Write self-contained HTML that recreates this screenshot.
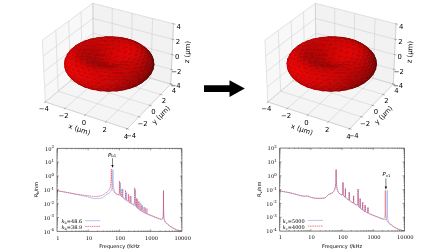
<!DOCTYPE html>
<html><head><meta charset="utf-8"><style>
html,body{margin:0;padding:0;background:#fff;overflow:hidden}
svg{display:block}
</style></head><body>
<svg width="448" height="252" viewBox="0 0 448 252">
<defs><style>*{stroke-linejoin:round;stroke-linecap:butt}</style><filter id="sm" x="-5%" y="-5%" width="110%" height="110%"><feGaussianBlur stdDeviation="0.9"/></filter></defs>
<g transform="matrix(0.54817 0 0 0.54817 -22.210 -30.670)"><g id="figure_1_a"> <g id="pane3d_1_a"> <g id="patch_3_a"> <path d="M 123.2 241.97 L 211.08 168.31 L 209.85 62.07 L 117.77 129.27 " style="fill: #f2f2f2; opacity: 0.5; stroke: #f2f2f2; stroke-linejoin: miter"/> </g> </g> <g id="pane3d_2_a"> <g id="patch_4_a"> <path d="M 211.08 168.31 L 352.09 209.29 L 357.12 99.4 L 209.85 62.07 " style="fill: #e6e6e6; opacity: 0.5; stroke: #e6e6e6; stroke-linejoin: miter"/> </g> </g> <g id="pane3d_3_a"> <g id="patch_5_a"> <path d="M 123.2 241.97 L 272.68 290.79 L 352.09 209.29 L 211.08 168.31 " style="fill: #ececec; opacity: 0.5; stroke: #ececec; stroke-linejoin: miter"/> </g> </g> <g id="grid3d_1_a"> <g id="Line3DCollection_1_a"> <path d="M 123.2 241.97 L 211.08 168.31 L 209.85 62.07 " style="fill: none; stroke: #c4c4c4; stroke-width: 0.8"/> <path d="M 159.11 253.7 L 245.07 178.19 L 245.3 71.06 " style="fill: none; stroke: #c4c4c4; stroke-width: 0.8"/> <path d="M 195.97 265.74 L 279.88 188.31 L 281.63 80.27 " style="fill: none; stroke: #c4c4c4; stroke-width: 0.8"/> <path d="M 233.81 278.1 L 315.54 198.67 L 318.9 89.71 " style="fill: none; stroke: #c4c4c4; stroke-width: 0.8"/> <path d="M 272.68 290.79 L 352.09 209.29 L 357.12 99.4 " style="fill: none; stroke: #c4c4c4; stroke-width: 0.8"/> </g> </g> <g id="grid3d_2_a"> <g id="Line3DCollection_2_a"> <path d="M 117.77 129.27 L 123.2 241.97 L 272.68 290.79 " style="fill: none; stroke: #c4c4c4; stroke-width: 0.8"/> <path d="M 142.36 111.33 L 146.6 222.35 L 293.9 269.02 " style="fill: none; stroke: #c4c4c4; stroke-width: 0.8"/> <path d="M 165.86 94.18 L 169.01 203.57 L 314.16 248.22 " style="fill: none; stroke: #c4c4c4; stroke-width: 0.8"/> <path d="M 188.34 77.78 L 190.48 185.57 L 333.54 228.33 " style="fill: none; stroke: #c4c4c4; stroke-width: 0.8"/> <path d="M 209.85 62.07 L 211.08 168.31 L 352.09 209.29 " style="fill: none; stroke: #c4c4c4; stroke-width: 0.8"/> </g> </g> <g id="grid3d_3_a"> <g id="Line3DCollection_3_a"> <path d="M 352.09 209.29 L 211.08 168.31 L 123.2 241.97 " style="fill: none; stroke: #c4c4c4; stroke-width: 0.8"/> <path d="M 353.31 182.71 L 210.78 142.57 L 121.89 214.75 " style="fill: none; stroke: #c4c4c4; stroke-width: 0.8"/> <path d="M 354.55 155.55 L 210.48 116.3 L 120.55 186.9 " style="fill: none; stroke: #c4c4c4; stroke-width: 0.8"/> <path d="M 355.82 127.79 L 210.17 89.47 L 119.17 158.42 " style="fill: none; stroke: #c4c4c4; stroke-width: 0.8"/> <path d="M 357.12 99.4 L 209.85 62.07 L 117.77 129.27 " style="fill: none; stroke: #c4c4c4; stroke-width: 0.8"/> </g> </g> <g id="axis3d_1_a"> <g id="line2d_1_a"> <path d="M 123.2 241.97 L 272.68 290.79 " style="fill:none;stroke:#c4c4c4;stroke-width:0.8"/> </g> <g id="xtick_1_a"> <g id="line2d_2_a"> <path d="M 123.96 241.33 L 121.66 243.25 " style="fill: none; stroke: #666666; stroke-width: 0.8; stroke-linecap: square"/> </g> <g id="text_1_a"> <text style="font-size: 12.5px;  font-family: 'DejaVu Sans', sans-serif; text-anchor: middle" x="120.64" y="259.08" transform="rotate(-0 120.64 259.08)">−4</text> </g> </g> <g id="xtick_2_a"> <g id="line2d_3_a"> <path d="M 159.86 253.04 L 157.61 255.02 " style="fill: none; stroke: #666666; stroke-width: 0.8; stroke-linecap: square"/> </g> <g id="text_2_a"> <text style="font-size: 12.5px;  font-family: 'DejaVu Sans', sans-serif; text-anchor: middle" x="156.59" y="271.06" transform="rotate(-0 156.59 271.06)">−2</text> </g> </g> <g id="xtick_3_a"> <g id="line2d_4_a"> <path d="M 196.7 265.06 L 194.5 267.09 " style="fill: none; stroke: #666666; stroke-width: 0.8; stroke-linecap: square"/> </g> <g id="text_3_a"> <text style="font-size: 12.5px;  font-family: 'DejaVu Sans', sans-serif; text-anchor: middle" x="193.49" y="283.36" transform="rotate(-0 193.49 283.36)">0</text> </g> </g> <g id="xtick_4_a"> <g id="line2d_5_a"> <path d="M 234.53 277.4 L 232.38 279.49 " style="fill: none; stroke: #666666; stroke-width: 0.8; stroke-linecap: square"/> </g> <g id="text_4_a"> <text style="font-size: 12.5px;  font-family: 'DejaVu Sans', sans-serif; text-anchor: middle" x="231.38" y="295.98" transform="rotate(-0 231.38 295.98)">2</text> </g> </g> <g id="xtick_5_a"> <g id="line2d_6_a"> <path d="M 273.37 290.08 L 271.29 292.22 " style="fill: none; stroke: #666666; stroke-width: 0.8; stroke-linecap: square"/> </g> <g id="text_5_a"> <text style="font-size: 12.5px;  font-family: 'DejaVu Sans', sans-serif; text-anchor: middle" x="270.3" y="308.95" transform="rotate(-0 270.3 308.95)">4</text> </g> </g> <g id="text_6_a"> <text style="font-size: 12.5px;  font-family: 'DejaVu Sans', sans-serif; text-anchor: middle" x="184.14" y="295.98" transform="rotate(-341.91 184.14 295.98)">x (μm)</text> </g> </g> <g id="axis3d_2_a"> <g id="line2d_7_a"> <path d="M 352.09 209.29 L 272.68 290.79 " style="fill:none;stroke:#c4c4c4;stroke-width:0.8"/> </g> <g id="xtick_6_a"> <g id="line2d_8_a"> <path d="M 271.42 290.38 L 275.2 291.61 " style="fill: none; stroke: #666666; stroke-width: 0.8; stroke-linecap: square"/> </g> <g id="text_7_a"> <text style="font-size: 12.5px;  font-family: 'DejaVu Sans', sans-serif; text-anchor: middle" x="279.54" y="307.52" transform="rotate(-0 279.54 307.52)">−4</text> </g> </g> <g id="xtick_7_a"> <g id="line2d_9_a"> <path d="M 292.66 268.62 L 296.38 269.8 " style="fill: none; stroke: #666666; stroke-width: 0.8; stroke-linecap: square"/> </g> <g id="text_8_a"> <text style="font-size: 12.5px;  font-family: 'DejaVu Sans', sans-serif; text-anchor: middle" x="300.47" y="285.42" transform="rotate(-0 300.47 285.42)">−2</text> </g> </g> <g id="xtick_8_a"> <g id="line2d_10_a"> <path d="M 312.94 247.84 L 316.61 248.97 " style="fill: none; stroke: #666666; stroke-width: 0.8; stroke-linecap: square"/> </g> <g id="text_9_a"> <text style="font-size: 12.5px;  font-family: 'DejaVu Sans', sans-serif; text-anchor: middle" x="320.47" y="264.32" transform="rotate(-0 320.47 264.32)">0</text> </g> </g> <g id="xtick_9_a"> <g id="line2d_11_a"> <path d="M 332.34 227.97 L 335.95 229.05 " style="fill: none; stroke: #666666; stroke-width: 0.8; stroke-linecap: square"/> </g> <g id="text_10_a"> <text style="font-size: 12.5px;  font-family: 'DejaVu Sans', sans-serif; text-anchor: middle" x="339.59" y="244.13" transform="rotate(-0 339.59 244.13)">2</text> </g> </g> <g id="xtick_10_a"> <g id="line2d_12_a"> <path d="M 350.91 208.95 L 354.46 209.98 " style="fill: none; stroke: #666666; stroke-width: 0.8; stroke-linecap: square"/> </g> <g id="text_11_a"> <text style="font-size: 12.5px;  font-family: 'DejaVu Sans', sans-serif; text-anchor: middle" x="357.88" y="224.82" transform="rotate(-0 357.88 224.82)">4</text> </g> </g> <g id="text_12_a"> <text style="font-size: 12.5px;  font-family: 'DejaVu Sans', sans-serif; text-anchor: middle" x="337.14" y="268.67" transform="rotate(-45.74 337.14 268.67)">y (μm)</text> </g> </g> <g id="axis3d_3_a"> <g id="line2d_13_a"> <path d="M 352.09 209.29 L 357.12 99.4 " style="fill:none;stroke:#c4c4c4;stroke-width:0.8"/> </g> <g id="xtick_11_a"> <g id="line2d_14_a"> <path d="M 350.91 208.95 L 354.46 209.98 " style="fill: none; stroke: #666666; stroke-width: 0.8; stroke-linecap: square"/> </g> <g id="text_13_a"> <text style="font-size: 12.5px;  font-family: 'DejaVu Sans', sans-serif; text-anchor: middle" x="360.83" y="216" transform="rotate(-0 360.83 216)">−4</text> </g> </g> <g id="xtick_12_a"> <g id="line2d_15_a"> <path d="M 352.11 182.38 L 355.7 183.39 " style="fill: none; stroke: #666666; stroke-width: 0.8; stroke-linecap: square"/> </g> <g id="text_14_a"> <text style="font-size: 12.5px;  font-family: 'DejaVu Sans', sans-serif; text-anchor: middle" x="362.24" y="191.32" transform="rotate(-0 362.24 191.32)">−2</text> </g> </g> <g id="xtick_13_a"> <g id="line2d_16_a"> <path d="M 353.34 155.22 L 356.98 156.21 " style="fill: none; stroke: #666666; stroke-width: 0.8; stroke-linecap: square"/> </g> <g id="text_15_a"> <text style="font-size: 12.5px;  font-family: 'DejaVu Sans', sans-serif; text-anchor: middle" x="363.68" y="164.21" transform="rotate(-0 363.68 164.21)">0</text> </g> </g> <g id="xtick_14_a"> <g id="line2d_17_a"> <path d="M 354.6 127.47 L 358.27 128.43 " style="fill: none; stroke: #666666; stroke-width: 0.8; stroke-linecap: square"/> </g> <g id="text_16_a"> <text style="font-size: 12.5px;  font-family: 'DejaVu Sans', sans-serif; text-anchor: middle" x="365.16" y="136.51" transform="rotate(-0 365.16 136.51)">2</text> </g> </g> <g id="xtick_15_a"> <g id="line2d_18_a"> <path d="M 355.88 99.09 L 359.6 100.03 " style="fill: none; stroke: #666666; stroke-width: 0.8; stroke-linecap: square"/> </g> <g id="text_17_a"> <text style="font-size: 12.5px;  font-family: 'DejaVu Sans', sans-serif; text-anchor: middle" x="366.66" y="108.18" transform="rotate(-0 366.66 108.18)">4</text> </g> </g> <g id="text_18_a"> <text style="font-size: 12.5px;  font-family: 'DejaVu Sans', sans-serif; text-anchor: middle" x="386.37" y="151.22" transform="rotate(-87.38 386.37 151.22)">z (μm)</text> </g> </g> <g id="axes_1_a"/> </g> <g stroke-width="1.1" stroke-linejoin="round" filter="url(#sm)"><path fill="#c90000" stroke="#9a0000" d="M233.1 123.2L246.8 123.4L240.8 123.1Z"/><path fill="#bd0000" stroke="#910000" d="M255.3 123.9L260.9 124.9L269.2 126.2Z"/><path fill="#c40000" stroke="#960000" d="M246.8 123.4L260.9 124.9L255.3 123.9Z"/><path fill="#d30000" stroke="#a20000" d="M233.1 123.2L238.9 125.5L246.8 123.4Z"/><path fill="#d60000" stroke="#a40000" d="M219.6 124.4L225.9 125.9L233.1 123.2Z"/><path fill="#b40000" stroke="#8a0000" d="M269.2 126.2L273.9 127.6L281.5 129.6Z"/><path fill="#bd0000" stroke="#900000" d="M260.9 124.9L273.9 127.6L269.2 126.2Z"/><path fill="#db0000" stroke="#a70000" d="M205.9 127.1L212.0 127.3L219.6 124.4Z"/><path fill="#d10000" stroke="#a00000" d="M246.8 123.4L252.3 126.5L260.9 124.9Z"/><path fill="#d30000" stroke="#a20000" d="M233.1 123.2L225.9 125.9L238.9 125.5Z"/><path fill="#d20000" stroke="#a00000" d="M238.9 125.5L252.3 126.5L246.8 123.4Z"/><path fill="#d60000" stroke="#a30000" d="M219.6 124.4L212.0 127.3L225.9 125.9Z"/><path fill="#e10000" stroke="#ac0000" d="M193.2 131.4L198.4 130.3L205.9 127.1Z"/><path fill="#cc0000" stroke="#9c0000" d="M260.9 124.9L265.4 128.3L273.9 127.6Z"/><path fill="#d00000" stroke="#9f0000" d="M252.3 126.5L265.4 128.3L260.9 124.9Z"/><path fill="#b40000" stroke="#8a0000" d="M281.5 129.6L273.9 127.6L285.7 131.5Z"/><path fill="#db0000" stroke="#a70000" d="M205.9 127.1L198.4 130.3L212.0 127.3Z"/><path fill="#aa0000" stroke="#820000" d="M281.5 129.6L285.7 131.5L292.8 134.5Z"/><path fill="#d90000" stroke="#a60000" d="M225.9 125.9L232.3 130.7L238.9 125.5Z"/><path fill="#db0000" stroke="#a70000" d="M238.9 125.5L244.4 130.3L252.3 126.5Z"/><path fill="#d80000" stroke="#a50000" d="M212.0 127.3L218.9 131.4L225.9 125.9Z"/><path fill="#d90000" stroke="#a60000" d="M238.9 125.5L232.3 130.7L244.4 130.3Z"/><path fill="#dc0000" stroke="#a80000" d="M252.3 126.5L256.9 131.7L265.4 128.3Z"/><path fill="#cc0000" stroke="#9c0000" d="M273.9 127.6L265.4 128.3L277.0 131.4Z"/><path fill="#e20000" stroke="#ad0000" d="M193.2 131.4L186.6 134.7L198.4 130.3Z"/><path fill="#d50000" stroke="#a30000" d="M225.9 125.9L218.9 131.4L232.3 130.7Z"/><path fill="#db0000" stroke="#a70000" d="M244.4 130.3L256.9 131.7L252.3 126.5Z"/><path fill="#c60000" stroke="#970000" d="M273.9 127.6L277.0 131.4L285.7 131.5Z"/><path fill="#dc0000" stroke="#a80000" d="M198.4 130.3L205.2 132.7L212.0 127.3Z"/><path fill="#a90000" stroke="#820000" d="M292.8 134.5L285.7 131.5L296.9 137.0Z"/><path fill="#d40000" stroke="#a20000" d="M212.0 127.3L205.2 132.7L218.9 131.4Z"/><path fill="#da0000" stroke="#a70000" d="M232.3 130.7L238.2 137.4L244.4 130.3Z"/><path fill="#dc0000" stroke="#a90000" d="M265.4 128.3L256.9 131.7L267.6 134.5Z"/><path fill="#e00000" stroke="#ab0000" d="M244.4 130.3L249.1 136.4L256.9 131.7Z"/><path fill="#dd0000" stroke="#a90000" d="M265.4 128.3L267.6 134.5L277.0 131.4Z"/><path fill="#ea0000" stroke="#b30000" d="M182.7 136.8L177.4 140.1L186.6 134.7Z"/><path fill="#d50000" stroke="#a30000" d="M218.9 131.4L225.8 138.2L232.3 130.7Z"/><path fill="#de0000" stroke="#aa0000" d="M244.4 130.3L238.2 137.4L249.1 136.4Z"/><path fill="#e30000" stroke="#ae0000" d="M186.6 134.7L192.5 135.2L198.4 130.3Z"/><path fill="#c60000" stroke="#970000" d="M285.7 131.5L277.0 131.4L288.7 135.6Z"/><path fill="#d60000" stroke="#a40000" d="M232.3 130.7L225.8 138.2L238.2 137.4Z"/><path fill="#d80000" stroke="#a50000" d="M198.4 130.3L192.5 135.2L205.2 132.7Z"/><path fill="#ba0000" stroke="#8f0000" d="M285.7 131.5L288.7 135.6L296.9 137.0Z"/><path fill="#e10000" stroke="#ac0000" d="M256.9 131.7L249.1 136.4L258.6 139.7Z"/><path fill="#d30000" stroke="#a10000" d="M205.2 132.7L212.6 138.6L218.9 131.4Z"/><path fill="#e50000" stroke="#af0000" d="M256.9 131.7L258.6 139.7L267.6 134.5Z"/><path fill="#ce0000" stroke="#9e0000" d="M218.9 131.4L212.6 138.6L225.8 138.2Z"/><path fill="#de0000" stroke="#aa0000" d="M249.1 136.4L238.2 137.4L247.0 144.4Z"/><path fill="#9d0000" stroke="#780000" d="M302.9 140.7L296.9 137.0L306.3 143.7Z"/><path fill="#de0000" stroke="#aa0000" d="M277.0 131.4L267.6 134.5L279.0 137.9Z"/><path fill="#eb0000" stroke="#b40000" d="M177.4 140.1L182.0 139.2L186.6 134.7Z"/><path fill="#d60000" stroke="#a40000" d="M238.2 137.4L225.8 138.2L234.9 146.3Z"/><path fill="#e50000" stroke="#af0000" d="M247.0 144.4L258.6 139.7L249.1 136.4Z"/><path fill="#d90000" stroke="#a60000" d="M277.0 131.4L279.0 137.9L288.7 135.6Z"/><path fill="#e20000" stroke="#ad0000" d="M186.6 134.7L182.0 139.2L192.5 135.2Z"/><path fill="#dd0000" stroke="#a90000" d="M238.2 137.4L234.9 146.3L247.0 144.4Z"/><path fill="#d60000" stroke="#a40000" d="M192.5 135.2L199.7 139.2L205.2 132.7Z"/><path fill="#cb0000" stroke="#9b0000" d="M205.2 132.7L199.7 139.2L212.6 138.6Z"/><path fill="#e70000" stroke="#b10000" d="M267.6 134.5L258.6 139.7L269.1 142.9Z"/><path fill="#ce0000" stroke="#9d0000" d="M225.8 138.2L212.6 138.6L221.5 147.0Z"/><path fill="#ba0000" stroke="#8f0000" d="M296.9 137.0L288.7 135.6L299.3 141.2Z"/><path fill="#d00000" stroke="#9f0000" d="M225.8 138.2L221.5 147.0L234.9 146.3Z"/><path fill="#e80000" stroke="#b10000" d="M267.6 134.5L269.1 142.9L279.0 137.9Z"/><path fill="#e50000" stroke="#af0000" d="M257.0 148.7L258.6 139.7L247.0 144.4Z"/><path fill="#ac0000" stroke="#830000" d="M296.9 137.0L299.3 141.2L306.3 143.7Z"/><path fill="#ec0000" stroke="#b50000" d="M177.4 140.1L174.0 144.1L182.0 139.2Z"/><path fill="#f20000" stroke="#b90000" d="M177.4 140.1L169.4 146.9L174.0 144.1Z"/><path fill="#eb0000" stroke="#b40000" d="M257.0 148.7L269.1 142.9L258.6 139.7Z"/><path fill="#dd0000" stroke="#a90000" d="M247.0 144.4L234.9 146.3L244.3 154.3Z"/><path fill="#e10000" stroke="#ac0000" d="M182.0 139.2L188.4 140.9L192.5 135.2Z"/><path fill="#d10000" stroke="#9f0000" d="M192.5 135.2L188.4 140.9L199.7 139.2Z"/><path fill="#da0000" stroke="#a70000" d="M288.7 135.6L279.0 137.9L290.1 141.9Z"/><path fill="#ca0000" stroke="#9a0000" d="M212.6 138.6L199.7 139.2L207.7 146.5Z"/><path fill="#c50000" stroke="#960000" d="M212.6 138.6L207.7 146.5L221.5 147.0Z"/><path fill="#910000" stroke="#6f0000" d="M310.9 147.8L306.3 143.7L313.2 151.1Z"/><path fill="#e60000" stroke="#b00000" d="M244.3 154.3L257.0 148.7L247.0 144.4Z"/><path fill="#d00000" stroke="#9f0000" d="M234.9 146.3L221.5 147.0L231.4 156.4Z"/><path fill="#ce0000" stroke="#9d0000" d="M288.7 135.6L290.1 141.9L299.3 141.2Z"/><path fill="#870000" stroke="#670000" d="M313.2 151.1L316.7 155.7L310.9 147.8Z"/><path fill="#d90000" stroke="#a60000" d="M234.9 146.3L231.4 156.4L244.3 154.3Z"/><path fill="#ea0000" stroke="#b30000" d="M279.0 137.9L269.1 142.9L279.8 145.9Z"/><path fill="#ec0000" stroke="#b40000" d="M174.0 144.1L179.2 144.1L182.0 139.2Z"/><path fill="#ed0000" stroke="#b50000" d="M267.9 152.1L269.1 142.9L257.0 148.7Z"/><path fill="#f40000" stroke="#bb0000" d="M169.4 146.9L167.4 150.8L174.0 144.1Z"/><path fill="#de0000" stroke="#aa0000" d="M182.0 139.2L179.2 144.1L188.4 140.9Z"/><path fill="#e60000" stroke="#b00000" d="M279.0 137.9L279.8 145.9L290.1 141.9Z"/><path fill="#ac0000" stroke="#830000" d="M306.3 143.7L299.3 141.2L307.6 148.0Z"/><path fill="#e70000" stroke="#b10000" d="M254.7 159.0L257.0 148.7L244.3 154.3Z"/><path fill="#cf0000" stroke="#9e0000" d="M199.7 139.2L188.4 140.9L194.9 146.2Z"/><path fill="#f70000" stroke="#bd0000" d="M169.4 146.9L163.5 154.7L167.4 150.8Z"/><path fill="#c10000" stroke="#940000" d="M199.7 139.2L194.9 146.2L207.7 146.5Z"/><path fill="#c50000" stroke="#960000" d="M221.5 147.0L207.7 146.5L217.4 156.2Z"/><path fill="#c70000" stroke="#980000" d="M221.5 147.0L217.4 156.2L231.4 156.4Z"/><path fill="#9e0000" stroke="#780000" d="M306.3 143.7L307.6 148.0L313.2 151.1Z"/><path fill="#ee0000" stroke="#b60000" d="M267.9 152.1L279.8 145.9L269.1 142.9Z"/><path fill="#ed0000" stroke="#b60000" d="M254.7 159.0L267.9 152.1L257.0 148.7Z"/><path fill="#d90000" stroke="#a60000" d="M244.3 154.3L231.4 156.4L241.3 163.8Z"/><path fill="#ce0000" stroke="#9e0000" d="M299.3 141.2L290.1 141.9L299.6 146.9Z"/><path fill="#eb0000" stroke="#b40000" d="M174.0 144.1L172.3 148.2L179.2 144.1Z"/><path fill="#f30000" stroke="#ba0000" d="M174.0 144.1L167.4 150.8L172.3 148.2Z"/><path fill="#870000" stroke="#670000" d="M317.9 159.4L316.7 155.7L313.2 151.1Z"/><path fill="#e40000" stroke="#ae0000" d="M241.3 163.8L254.7 159.0L244.3 154.3Z"/><path fill="#bc0000" stroke="#900000" d="M299.3 141.2L299.6 146.9L307.6 148.0Z"/><path fill="#dd0000" stroke="#a90000" d="M188.4 140.9L179.2 144.1L184.1 147.4Z"/><path fill="#ca0000" stroke="#9b0000" d="M188.4 140.9L184.1 147.4L194.9 146.2Z"/><path fill="#7e0000" stroke="#600000" d="M317.9 159.4L320.4 164.6L316.7 155.7Z"/><path fill="#e70000" stroke="#b10000" d="M290.1 141.9L279.8 145.9L289.8 149.1Z"/><path fill="#ba0000" stroke="#8e0000" d="M207.7 146.5L203.5 154.4L217.4 156.2Z"/><path fill="#c10000" stroke="#940000" d="M207.7 146.5L194.9 146.2L203.5 154.4Z"/><path fill="#c70000" stroke="#980000" d="M231.4 156.4L217.4 156.2L227.9 165.2Z"/><path fill="#fa0000" stroke="#bf0000" d="M167.4 150.8L163.5 154.7L163.4 157.8Z"/><path fill="#d00000" stroke="#9f0000" d="M231.4 156.4L227.9 165.2L241.3 163.8Z"/><path fill="#f00000" stroke="#b70000" d="M278.8 154.4L279.8 145.9L267.9 152.1Z"/><path fill="#9d0000" stroke="#780000" d="M313.2 151.1L307.6 148.0L313.3 155.1Z"/><path fill="#dc0000" stroke="#a80000" d="M290.1 141.9L289.8 149.1L299.6 146.9Z"/><path fill="#fb0000" stroke="#c00000" d="M163.5 154.7L159.9 162.6L163.4 157.8Z"/><path fill="#ef0000" stroke="#b70000" d="M265.7 161.6L267.9 152.1L254.7 159.0Z"/><path fill="#ea0000" stroke="#b30000" d="M179.2 144.1L172.3 148.2L175.8 150.3Z"/><path fill="#920000" stroke="#700000" d="M313.3 155.1L317.9 159.4L313.2 151.1Z"/><path fill="#f50000" stroke="#bb0000" d="M172.3 148.2L167.4 150.8L168.4 154.1Z"/><path fill="#ec0000" stroke="#b50000" d="M278.8 154.4L289.8 149.1L279.8 145.9Z"/><path fill="#dd0000" stroke="#a90000" d="M179.2 144.1L175.8 150.3L184.1 147.4Z"/><path fill="#e50000" stroke="#af0000" d="M251.7 167.9L254.7 159.0L241.3 163.8Z"/><path fill="#f00000" stroke="#b80000" d="M265.7 161.6L278.8 154.4L267.9 152.1Z"/><path fill="#f80000" stroke="#be0000" d="M167.4 150.8L163.4 157.8L168.4 154.1Z"/><path fill="#bc0000" stroke="#900000" d="M307.6 148.0L299.6 146.9L306.8 152.9Z"/><path fill="#cb0000" stroke="#9b0000" d="M194.9 146.2L184.1 147.4L191.2 153.2Z"/><path fill="#bb0000" stroke="#8f0000" d="M194.9 146.2L191.2 153.2L203.5 154.4Z"/><path fill="#ba0000" stroke="#8f0000" d="M217.4 156.2L203.5 154.4L213.8 163.6Z"/><path fill="#bc0000" stroke="#900000" d="M217.4 156.2L213.8 163.6L227.9 165.2Z"/><path fill="#fc0000" stroke="#c10000" d="M159.9 162.6L158.7 167.9L158.4 171.7Z"/><path fill="#eb0000" stroke="#b40000" d="M251.7 167.9L265.7 161.6L254.7 159.0Z"/><path fill="#ab0000" stroke="#820000" d="M307.6 148.0L306.8 152.9L313.3 155.1Z"/><path fill="#ef0000" stroke="#b70000" d="M168.4 154.1L175.8 150.3L172.3 148.2Z"/><path fill="#800000" stroke="#620000" d="M320.2 168.5L320.4 164.6L317.9 159.4Z"/><path fill="#d10000" stroke="#a00000" d="M241.3 163.8L227.9 165.2L238.2 170.8Z"/><path fill="#dc0000" stroke="#a80000" d="M299.6 146.9L289.8 149.1L298.1 153.0Z"/><path fill="#770000" stroke="#5b0000" d="M320.2 168.5L321.4 173.9L320.4 164.6Z"/><path fill="#dc0000" stroke="#a80000" d="M238.2 170.8L251.7 167.9L241.3 163.8Z"/><path fill="#fd0000" stroke="#c10000" d="M163.4 157.8L159.9 162.6L161.0 166.2Z"/><path fill="#930000" stroke="#710000" d="M316.6 163.3L317.9 159.4L313.3 155.1Z"/><path fill="#dd0000" stroke="#a90000" d="M184.1 147.4L175.8 150.3L181.3 154.1Z"/><path fill="#ca0000" stroke="#9a0000" d="M299.6 146.9L298.1 153.0L306.8 152.9Z"/><path fill="#ed0000" stroke="#b50000" d="M288.5 156.6L289.8 149.1L278.8 154.4Z"/><path fill="#c90000" stroke="#9a0000" d="M184.1 147.4L181.3 154.1L191.2 153.2Z"/><path fill="#fe0000" stroke="#c20000" d="M159.9 162.6L158.4 171.7L161.0 166.2Z"/><path fill="#f90000" stroke="#bf0000" d="M168.4 154.1L163.4 157.8L165.6 161.4Z"/><path fill="#8a0000" stroke="#690000" d="M316.6 163.3L320.2 168.5L317.9 159.4Z"/><path fill="#ef0000" stroke="#b70000" d="M172.5 156.7L175.8 150.3L168.4 154.1Z"/><path fill="#f00000" stroke="#b80000" d="M276.4 162.6L278.8 154.4L265.7 161.6Z"/><path fill="#bb0000" stroke="#8f0000" d="M203.5 154.4L191.2 153.2L200.4 160.9Z"/><path fill="#b40000" stroke="#8a0000" d="M203.5 154.4L200.4 160.9L213.8 163.6Z"/><path fill="#aa0000" stroke="#820000" d="M313.3 155.1L306.8 152.9L311.5 159.3Z"/><path fill="#bd0000" stroke="#900000" d="M227.9 165.2L213.8 163.6L224.6 170.7Z"/><path fill="#e20000" stroke="#ad0000" d="M288.5 156.6L298.1 153.0L289.8 149.1Z"/><path fill="#c60000" stroke="#970000" d="M227.9 165.2L224.6 170.7L238.2 170.8Z"/><path fill="#eb0000" stroke="#b40000" d="M262.5 169.1L265.7 161.6L251.7 167.9Z"/><path fill="#fc0000" stroke="#c10000" d="M163.4 157.8L161.0 166.2L165.6 161.4Z"/><path fill="#9d0000" stroke="#780000" d="M311.5 159.3L316.6 163.3L313.3 155.1Z"/><path fill="#e20000" stroke="#ad0000" d="M172.5 156.7L181.3 154.1L175.8 150.3Z"/><path fill="#ec0000" stroke="#b50000" d="M276.4 162.6L288.5 156.6L278.8 154.4Z"/><path fill="#f50000" stroke="#bb0000" d="M165.6 161.4L172.5 156.7L168.4 154.1Z"/><path fill="#fc0000" stroke="#c00000" d="M158.4 171.7L158.6 177.3L159.8 181.1Z"/><path fill="#7b0000" stroke="#5e0000" d="M319.9 177.4L321.4 173.9L320.2 168.5Z"/><path fill="#ca0000" stroke="#9a0000" d="M306.8 152.9L298.1 153.0L304.3 158.0Z"/><path fill="#dc0000" stroke="#a80000" d="M248.3 173.4L251.7 167.9L238.2 170.8Z"/><path fill="#ec0000" stroke="#b50000" d="M262.5 169.1L276.4 162.6L265.7 161.6Z"/><path fill="#b60000" stroke="#8b0000" d="M306.8 152.9L304.3 158.0L311.5 159.3Z"/><path fill="#ca0000" stroke="#9b0000" d="M191.2 153.2L181.3 154.1L189.1 159.6Z"/><path fill="#f80000" stroke="#be0000" d="M158.6 177.3L161.3 186.5L159.8 181.1Z"/><path fill="#750000" stroke="#5a0000" d="M319.9 177.4L319.8 182.7L321.4 173.9Z"/><path fill="#bb0000" stroke="#8f0000" d="M191.2 153.2L189.1 159.6L200.4 160.9Z"/><path fill="#8d0000" stroke="#6c0000" d="M317.7 172.0L320.2 168.5L316.6 163.3Z"/><path fill="#ff0000" stroke="#c30000" d="M161.0 166.2L158.4 171.7L161.0 175.4Z"/><path fill="#e20000" stroke="#ad0000" d="M248.3 173.4L262.5 169.1L251.7 167.9Z"/><path fill="#b50000" stroke="#8a0000" d="M213.8 163.6L200.4 160.9L211.1 168.3Z"/><path fill="#b70000" stroke="#8c0000" d="M213.8 163.6L211.1 168.3L224.6 170.7Z"/><path fill="#e20000" stroke="#ad0000" d="M296.3 159.9L298.1 153.0L288.5 156.6Z"/><path fill="#c70000" stroke="#980000" d="M238.2 170.8L224.6 170.7L235.1 174.5Z"/><path fill="#9f0000" stroke="#7a0000" d="M313.6 167.2L316.6 163.3L311.5 159.3Z"/><path fill="#850000" stroke="#660000" d="M317.7 172.0L319.9 177.4L320.2 168.5Z"/><path fill="#e20000" stroke="#ad0000" d="M178.9 160.6L181.3 154.1L172.5 156.7Z"/><path fill="#fe0000" stroke="#c20000" d="M158.4 171.7L159.8 181.1L161.0 175.4Z"/><path fill="#fd0000" stroke="#c10000" d="M165.6 161.4L161.0 166.2L164.6 169.9Z"/><path fill="#d00000" stroke="#9f0000" d="M296.3 159.9L304.3 158.0L298.1 153.0Z"/><path fill="#d20000" stroke="#a00000" d="M235.1 174.5L248.3 173.4L238.2 170.8Z"/><path fill="#f50000" stroke="#bb0000" d="M170.5 164.4L172.5 156.7L165.6 161.4Z"/><path fill="#b60000" stroke="#8b0000" d="M311.5 159.3L304.3 158.0L308.5 163.4Z"/><path fill="#ec0000" stroke="#b50000" d="M285.6 163.8L288.5 156.6L276.4 162.6Z"/><path fill="#d10000" stroke="#a00000" d="M178.9 160.6L189.1 159.6L181.3 154.1Z"/><path fill="#960000" stroke="#720000" d="M313.6 167.2L317.7 172.0L316.6 163.3Z"/><path fill="#ff0000" stroke="#c30000" d="M161.0 166.2L161.0 175.4L164.6 169.9Z"/><path fill="#a80000" stroke="#800000" d="M308.5 163.4L313.6 167.2L311.5 159.3Z"/><path fill="#7b0000" stroke="#5e0000" d="M317.1 186.1L319.8 182.7L319.9 177.4Z"/><path fill="#ec0000" stroke="#b40000" d="M170.5 164.4L178.9 160.6L172.5 156.7Z"/><path fill="#eb0000" stroke="#b40000" d="M272.7 169.1L276.4 162.6L262.5 169.1Z"/><path fill="#e10000" stroke="#ac0000" d="M285.6 163.8L296.3 159.9L288.5 156.6Z"/><path fill="#f80000" stroke="#be0000" d="M159.8 181.1L161.3 186.5L163.8 190.1Z"/><path fill="#fa0000" stroke="#bf0000" d="M164.6 169.9L170.5 164.4L165.6 161.4Z"/><path fill="#bc0000" stroke="#900000" d="M200.4 160.9L189.1 159.6L198.7 165.9Z"/><path fill="#b60000" stroke="#8b0000" d="M200.4 160.9L198.7 165.9L211.1 168.3Z"/><path fill="#b80000" stroke="#8d0000" d="M224.6 170.7L211.1 168.3L222.0 173.6Z"/><path fill="#790000" stroke="#5c0000" d="M315.6 191.3L319.8 182.7L317.1 186.1Z"/><path fill="#c10000" stroke="#930000" d="M224.6 170.7L222.0 173.6L235.1 174.5Z"/><path fill="#f30000" stroke="#ba0000" d="M161.3 186.5L166.4 194.8L163.8 190.1Z"/><path fill="#e10000" stroke="#ac0000" d="M258.6 173.7L262.5 169.1L248.3 173.4Z"/><path fill="#d00000" stroke="#9f0000" d="M301.8 164.4L304.3 158.0L296.3 159.9Z"/><path fill="#890000" stroke="#690000" d="M315.9 180.3L319.9 177.4L317.7 172.0Z"/><path fill="#bd0000" stroke="#910000" d="M301.8 164.4L308.5 163.4L304.3 158.0Z"/><path fill="#e70000" stroke="#b10000" d="M272.7 169.1L285.6 163.8L276.4 162.6Z"/><path fill="#fe0000" stroke="#c20000" d="M161.0 175.4L159.8 181.1L163.6 184.6Z"/><path fill="#990000" stroke="#750000" d="M312.5 174.6L317.7 172.0L313.6 167.2Z"/><path fill="#850000" stroke="#650000" d="M317.1 186.1L319.9 177.4L315.9 180.3Z"/><path fill="#d10000" stroke="#a00000" d="M187.9 165.7L189.1 159.6L178.9 160.6Z"/><path fill="#d10000" stroke="#a00000" d="M244.7 176.2L248.3 173.4L235.1 174.5Z"/><path fill="#e30000" stroke="#ad0000" d="M258.6 173.7L272.7 169.1L262.5 169.1Z"/><path fill="#fc0000" stroke="#c00000" d="M159.8 181.1L163.8 190.1L163.6 184.6Z"/><path fill="#aa0000" stroke="#820000" d="M307.6 169.8L313.6 167.2L308.5 163.4Z"/><path fill="#ff0000" stroke="#c30000" d="M164.6 169.9L161.0 175.4L165.9 178.8Z"/><path fill="#c40000" stroke="#960000" d="M187.9 165.7L198.7 165.9L189.1 159.6Z"/><path fill="#ec0000" stroke="#b40000" d="M178.2 168.4L178.9 160.6L170.5 164.4Z"/><path fill="#e20000" stroke="#ac0000" d="M292.8 166.6L296.3 159.9L285.6 163.8Z"/><path fill="#940000" stroke="#710000" d="M315.9 180.3L317.7 172.0L312.5 174.6Z"/><path fill="#fa0000" stroke="#bf0000" d="M170.7 173.3L170.5 164.4L164.6 169.9Z"/><path fill="#b70000" stroke="#8c0000" d="M211.1 168.3L198.7 165.9L209.4 171.5Z"/><path fill="#d80000" stroke="#a50000" d="M244.7 176.2L258.6 173.7L248.3 173.4Z"/><path fill="#bb0000" stroke="#8f0000" d="M307.6 169.8L308.5 163.4L301.8 164.4Z"/><path fill="#ba0000" stroke="#8e0000" d="M211.1 168.3L209.4 171.5L222.0 173.6Z"/><path fill="#d00000" stroke="#9f0000" d="M292.8 166.6L301.8 164.4L296.3 159.9Z"/><path fill="#ff0000" stroke="#c30000" d="M161.0 175.4L163.6 184.6L165.9 178.8Z"/><path fill="#a50000" stroke="#7e0000" d="M312.5 174.6L313.6 167.2L307.6 169.8Z"/><path fill="#7f0000" stroke="#610000" d="M311.3 195.0L315.6 191.3L317.1 186.1Z"/><path fill="#f20000" stroke="#b90000" d="M163.8 190.1L166.4 194.8L169.7 197.7Z"/><path fill="#c10000" stroke="#940000" d="M235.1 174.5L222.0 173.6L232.3 176.3Z"/><path fill="#df0000" stroke="#aa0000" d="M178.2 168.4L187.9 165.7L178.9 160.6Z"/><path fill="#800000" stroke="#620000" d="M308.7 199.6L315.6 191.3L311.3 195.0Z"/><path fill="#ed0000" stroke="#b50000" d="M173.8 202.5L169.7 197.7L166.4 194.8Z"/><path fill="#fd0000" stroke="#c20000" d="M165.9 178.8L170.7 173.3L164.6 169.9Z"/><path fill="#cb0000" stroke="#9b0000" d="M232.3 176.3L244.7 176.2L235.1 174.5Z"/><path fill="#e70000" stroke="#b10000" d="M281.3 170.0L285.6 163.8L272.7 169.1Z"/><path fill="#f50000" stroke="#bb0000" d="M170.7 173.3L178.2 168.4L170.5 164.4Z"/><path fill="#8a0000" stroke="#6a0000" d="M311.5 189.3L317.1 186.1L315.9 180.3Z"/><path fill="#fb0000" stroke="#c00000" d="M163.6 184.6L163.8 190.1L168.5 192.9Z"/><path fill="#dd0000" stroke="#a90000" d="M281.3 170.0L292.8 166.6L285.6 163.8Z"/><path fill="#ba0000" stroke="#8e0000" d="M307.6 169.8L301.8 164.4L299.8 171.0Z"/><path fill="#c50000" stroke="#960000" d="M198.8 171.1L198.7 165.9L187.9 165.7Z"/><path fill="#e30000" stroke="#ae0000" d="M268.1 173.8L272.7 169.1L258.6 173.7Z"/><path fill="#f70000" stroke="#bd0000" d="M163.8 190.1L169.7 197.7L168.5 192.9Z"/><path fill="#ce0000" stroke="#9e0000" d="M299.8 171.0L301.8 164.4L292.8 166.6Z"/><path fill="#870000" stroke="#670000" d="M311.3 195.0L317.1 186.1L311.5 189.3Z"/><path fill="#990000" stroke="#750000" d="M309.2 183.1L315.9 180.3L312.5 174.6Z"/><path fill="#bf0000" stroke="#920000" d="M198.8 171.1L209.4 171.5L198.7 165.9Z"/><path fill="#ba0000" stroke="#8e0000" d="M222.0 173.6L209.4 171.5L220.1 175.4Z"/><path fill="#fe0000" stroke="#c20000" d="M165.9 178.8L163.6 184.6L169.4 187.4Z"/><path fill="#a80000" stroke="#800000" d="M305.1 177.3L312.5 174.6L307.6 169.8Z"/><path fill="#c20000" stroke="#940000" d="M222.0 173.6L220.1 175.4L232.3 176.3Z"/><path fill="#d80000" stroke="#a50000" d="M254.4 176.7L258.6 173.7L244.7 176.2Z"/><path fill="#e00000" stroke="#ab0000" d="M268.1 173.8L281.3 170.0L272.7 169.1Z"/><path fill="#950000" stroke="#720000" d="M311.5 189.3L315.9 180.3L309.2 183.1Z"/><path fill="#870000" stroke="#670000" d="M303.0 203.1L308.7 199.6L311.3 195.0Z"/><path fill="#ec0000" stroke="#b40000" d="M178.2 204.8L169.7 197.7L173.8 202.5Z"/><path fill="#fd0000" stroke="#c10000" d="M163.6 184.6L168.5 192.9L169.4 187.4Z"/><path fill="#df0000" stroke="#aa0000" d="M188.5 172.8L187.9 165.7L178.2 168.4Z"/><path fill="#fd0000" stroke="#c10000" d="M173.3 182.5L170.7 173.3L165.9 178.8Z"/><path fill="#8a0000" stroke="#690000" d="M299.8 206.8L308.7 199.6L303.0 203.1Z"/><path fill="#b60000" stroke="#8b0000" d="M305.1 177.3L307.6 169.8L299.8 171.0Z"/><path fill="#cb0000" stroke="#9b0000" d="M241.4 177.9L244.7 176.2L232.3 176.3Z"/><path fill="#a30000" stroke="#7d0000" d="M309.2 183.1L312.5 174.6L305.1 177.3Z"/><path fill="#f50000" stroke="#bb0000" d="M179.7 177.1L178.2 168.4L170.7 173.3Z"/><path fill="#e50000" stroke="#af0000" d="M183.8 209.4L178.2 204.8L173.8 202.5Z"/><path fill="#da0000" stroke="#a70000" d="M254.4 176.7L268.1 173.8L258.6 173.7Z"/><path fill="#d40000" stroke="#a20000" d="M188.5 172.8L198.8 171.1L187.9 165.7Z"/><path fill="#dd0000" stroke="#a90000" d="M289.3 173.1L292.8 166.6L281.3 170.0Z"/><path fill="#cc0000" stroke="#9c0000" d="M299.8 171.0L292.8 166.6L289.3 173.1Z"/><path fill="#fd0000" stroke="#c20000" d="M169.4 187.4L173.3 182.5L165.9 178.8Z"/><path fill="#f60000" stroke="#bc0000" d="M168.5 192.9L169.7 197.7L174.7 199.8Z"/><path fill="#d20000" stroke="#a00000" d="M241.4 177.9L254.4 176.7L244.7 176.2Z"/><path fill="#8e0000" stroke="#6d0000" d="M304.3 198.0L311.3 195.0L311.5 189.3Z"/><path fill="#c10000" stroke="#930000" d="M210.4 175.5L209.4 171.5L198.8 171.1Z"/><path fill="#c20000" stroke="#940000" d="M210.4 175.5L220.1 175.4L209.4 171.5Z"/><path fill="#c20000" stroke="#940000" d="M232.3 176.3L220.1 175.4L229.9 177.7Z"/><path fill="#f00000" stroke="#b80000" d="M178.2 204.8L174.7 199.8L169.7 197.7Z"/><path fill="#f90000" stroke="#bf0000" d="M173.3 182.5L179.7 177.1L170.7 173.3Z"/><path fill="#ed0000" stroke="#b50000" d="M179.7 177.1L188.5 172.8L178.2 168.4Z"/><path fill="#8e0000" stroke="#6c0000" d="M303.0 203.1L311.3 195.0L304.3 198.0Z"/><path fill="#ca0000" stroke="#9a0000" d="M229.9 177.7L241.4 177.9L232.3 176.3Z"/><path fill="#fb0000" stroke="#c00000" d="M169.4 187.4L168.5 192.9L174.6 194.9Z"/><path fill="#e00000" stroke="#ac0000" d="M276.2 175.8L281.3 170.0L268.1 173.8Z"/><path fill="#b70000" stroke="#8c0000" d="M305.1 177.3L299.8 171.0L295.8 178.7Z"/><path fill="#9b0000" stroke="#760000" d="M303.3 191.9L311.5 189.3L309.2 183.1Z"/><path fill="#940000" stroke="#710000" d="M293.1 209.8L289.1 212.8L299.8 206.8Z"/><path fill="#910000" stroke="#6f0000" d="M293.1 209.8L299.8 206.8L303.0 203.1Z"/><path fill="#f80000" stroke="#be0000" d="M168.5 192.9L174.7 199.8L174.6 194.9Z"/><path fill="#c70000" stroke="#990000" d="M295.8 178.7L299.8 171.0L289.3 173.1Z"/><path fill="#d70000" stroke="#a40000" d="M289.3 173.1L281.3 170.0L276.2 175.8Z"/><path fill="#e50000" stroke="#af0000" d="M188.5 210.9L178.2 204.8L183.8 209.4Z"/><path fill="#a80000" stroke="#800000" d="M300.3 185.4L309.2 183.1L305.1 177.3Z"/><path fill="#980000" stroke="#740000" d="M304.3 198.0L311.5 189.3L303.3 191.9Z"/><path fill="#fc0000" stroke="#c10000" d="M177.8 191.0L173.3 182.5L169.4 187.4Z"/><path fill="#dd0000" stroke="#a90000" d="M195.3 214.9L188.5 210.9L183.8 209.4Z"/><path fill="#d40000" stroke="#a20000" d="M200.4 177.1L198.8 171.1L188.5 172.8Z"/><path fill="#dc0000" stroke="#a80000" d="M261.9 178.3L268.1 173.8L254.4 176.7Z"/><path fill="#ef0000" stroke="#b70000" d="M183.6 206.0L174.7 199.8L178.2 204.8Z"/><path fill="#cf0000" stroke="#9f0000" d="M200.4 177.1L210.4 175.5L198.8 171.1Z"/><path fill="#c80000" stroke="#990000" d="M221.6 178.5L229.9 177.7L220.1 175.4Z"/><path fill="#fb0000" stroke="#c00000" d="M174.6 194.9L177.8 191.0L169.4 187.4Z"/><path fill="#c30000" stroke="#950000" d="M221.6 178.5L220.1 175.4L210.4 175.5Z"/><path fill="#b30000" stroke="#890000" d="M300.3 185.4L305.1 177.3L295.8 178.7Z"/><path fill="#a40000" stroke="#7d0000" d="M303.3 191.9L309.2 183.1L300.3 185.4Z"/><path fill="#f80000" stroke="#be0000" d="M183.2 186.0L179.7 177.1L173.3 182.5Z"/><path fill="#d40000" stroke="#a20000" d="M247.7 179.8L254.4 176.7L241.4 177.9Z"/><path fill="#9e0000" stroke="#790000" d="M281.2 215.2L275.8 217.6L289.1 212.8Z"/><path fill="#ed0000" stroke="#b50000" d="M191.0 180.9L188.5 172.8L179.7 177.1Z"/><path fill="#d90000" stroke="#a60000" d="M276.2 175.8L268.1 173.8L261.9 178.3Z"/><path fill="#950000" stroke="#720000" d="M295.0 205.5L303.0 203.1L304.3 198.0Z"/><path fill="#e90000" stroke="#b20000" d="M188.5 210.9L183.6 206.0L178.2 204.8Z"/><path fill="#f70000" stroke="#bd0000" d="M174.6 194.9L174.7 199.8L180.5 201.1Z"/><path fill="#9b0000" stroke="#760000" d="M281.2 215.2L289.1 212.8L293.1 209.8Z"/><path fill="#960000" stroke="#730000" d="M293.1 209.8L303.0 203.1L295.0 205.5Z"/><path fill="#cc0000" stroke="#9c0000" d="M234.9 180.1L241.4 177.9L229.9 177.7Z"/><path fill="#fa0000" stroke="#bf0000" d="M177.8 191.0L183.2 186.0L173.3 182.5Z"/><path fill="#f20000" stroke="#b90000" d="M183.6 206.0L180.5 201.1L174.7 199.8Z"/><path fill="#c60000" stroke="#980000" d="M295.8 178.7L289.3 173.1L283.7 180.4Z"/><path fill="#d50000" stroke="#a30000" d="M283.7 180.4L289.3 173.1L276.2 175.8Z"/><path fill="#e50000" stroke="#af0000" d="M191.0 180.9L200.4 177.1L188.5 172.8Z"/><path fill="#d50000" stroke="#a30000" d="M261.9 178.3L254.4 176.7L247.7 179.8Z"/><path fill="#dc0000" stroke="#a80000" d="M200.0 215.3L188.5 210.9L195.3 214.9Z"/><path fill="#f40000" stroke="#ba0000" d="M183.2 186.0L191.0 180.9L179.7 177.1Z"/><path fill="#9f0000" stroke="#790000" d="M295.2 200.0L304.3 198.0L303.3 191.9Z"/><path fill="#d60000" stroke="#a30000" d="M200.0 215.3L195.3 214.9L208.2 218.9Z"/><path fill="#c90000" stroke="#9a0000" d="M234.9 180.1L229.9 177.7L221.6 178.5Z"/><path fill="#cf0000" stroke="#9e0000" d="M247.7 179.8L241.4 177.9L234.9 180.1Z"/><path fill="#f90000" stroke="#be0000" d="M183.5 198.1L177.8 191.0L174.6 194.9Z"/><path fill="#f70000" stroke="#bd0000" d="M180.5 201.1L183.5 198.1L174.6 194.9Z"/><path fill="#a40000" stroke="#7d0000" d="M267.5 219.4L275.8 217.6L281.2 215.2Z"/><path fill="#d00000" stroke="#9f0000" d="M212.4 180.5L210.4 175.5L200.4 177.1Z"/><path fill="#b60000" stroke="#8b0000" d="M300.3 185.4L295.8 178.7L289.6 187.0Z"/><path fill="#9d0000" stroke="#780000" d="M295.0 205.5L304.3 198.0L295.2 200.0Z"/><path fill="#d00000" stroke="#9f0000" d="M212.4 180.5L221.6 178.5L210.4 175.5Z"/><path fill="#aa0000" stroke="#820000" d="M293.5 193.6L303.3 191.9L300.3 185.4Z"/><path fill="#e80000" stroke="#b10000" d="M193.6 210.4L183.6 206.0L188.5 210.9Z"/><path fill="#9f0000" stroke="#7a0000" d="M284.9 211.4L281.2 215.2L293.1 209.8Z"/><path fill="#9d0000" stroke="#780000" d="M284.9 211.4L293.1 209.8L295.0 205.5Z"/><path fill="#c20000" stroke="#940000" d="M289.6 187.0L295.8 178.7L283.7 180.4Z"/><path fill="#da0000" stroke="#a70000" d="M269.5 182.1L276.2 175.8L261.9 178.3Z"/><path fill="#f00000" stroke="#b80000" d="M189.1 205.0L180.5 201.1L183.6 206.0Z"/><path fill="#e30000" stroke="#ad0000" d="M193.6 210.4L188.5 210.9L200.0 215.3Z"/><path fill="#ac0000" stroke="#840000" d="M253.2 221.8L261.3 220.7L267.5 219.4Z"/><path fill="#f80000" stroke="#be0000" d="M188.2 194.0L183.2 186.0L177.8 191.0Z"/><path fill="#a70000" stroke="#800000" d="M295.2 200.0L303.3 191.9L293.5 193.6Z"/><path fill="#d10000" stroke="#a00000" d="M283.7 180.4L276.2 175.8L269.5 182.1Z"/><path fill="#b30000" stroke="#890000" d="M293.5 193.6L300.3 185.4L289.6 187.0Z"/><path fill="#f80000" stroke="#bd0000" d="M183.5 198.1L188.2 194.0L177.8 191.0Z"/><path fill="#e50000" stroke="#af0000" d="M203.2 184.1L200.4 177.1L191.0 180.9Z"/><path fill="#f40000" stroke="#ba0000" d="M189.1 205.0L183.5 198.1L180.5 201.1Z"/><path fill="#cd0000" stroke="#9d0000" d="M214.1 218.8L208.2 218.9L223.0 221.6Z"/><path fill="#d40000" stroke="#a20000" d="M214.1 218.8L200.0 215.3L208.2 218.9Z"/><path fill="#ed0000" stroke="#b50000" d="M189.1 205.0L183.6 206.0L193.6 210.4Z"/><path fill="#d20000" stroke="#a00000" d="M234.9 180.1L221.6 178.5L226.3 182.5Z"/><path fill="#f30000" stroke="#ba0000" d="M194.9 189.0L191.0 180.9L183.2 186.0Z"/><path fill="#d80000" stroke="#a50000" d="M254.6 183.3L261.9 178.3L247.7 179.8Z"/><path fill="#e00000" stroke="#ab0000" d="M203.2 184.1L212.4 180.5L200.4 177.1Z"/><path fill="#a90000" stroke="#810000" d="M272.5 216.1L267.5 219.4L281.2 215.2Z"/><path fill="#d10000" stroke="#a00000" d="M226.3 182.5L221.6 178.5L212.4 180.5Z"/><path fill="#a40000" stroke="#7d0000" d="M285.7 206.7L295.0 205.5L295.2 200.0Z"/><path fill="#a70000" stroke="#7f0000" d="M272.5 216.1L281.2 215.2L284.9 211.4Z"/><path fill="#a40000" stroke="#7d0000" d="M284.9 211.4L295.0 205.5L285.7 206.7Z"/><path fill="#d40000" stroke="#a20000" d="M240.7 183.7L247.7 179.8L234.9 180.1Z"/><path fill="#f50000" stroke="#bb0000" d="M188.2 194.0L194.9 189.0L183.2 186.0Z"/><path fill="#d50000" stroke="#a30000" d="M269.5 182.1L261.9 178.3L254.6 183.3Z"/><path fill="#ee0000" stroke="#b60000" d="M194.9 189.0L203.2 184.1L191.0 180.9Z"/><path fill="#c50000" stroke="#960000" d="M229.7 220.7L223.0 221.6L238.6 222.6Z"/><path fill="#c40000" stroke="#960000" d="M289.6 187.0L283.7 180.4L276.3 188.3Z"/><path fill="#b30000" stroke="#890000" d="M258.9 219.3L253.2 221.8L267.5 219.4Z"/><path fill="#e10000" stroke="#ac0000" d="M206.3 214.2L193.6 210.4L200.0 215.3Z"/><path fill="#f30000" stroke="#ba0000" d="M193.5 201.8L183.5 198.1L189.1 205.0Z"/><path fill="#ad0000" stroke="#850000" d="M285.1 200.9L295.2 200.0L293.5 193.6Z"/><path fill="#f50000" stroke="#bb0000" d="M193.5 201.8L188.2 194.0L183.5 198.1Z"/><path fill="#ce0000" stroke="#9e0000" d="M276.3 188.3L283.7 180.4L269.5 182.1Z"/><path fill="#d20000" stroke="#a10000" d="M240.7 183.7L234.9 180.1L226.3 182.5Z"/><path fill="#bc0000" stroke="#900000" d="M245.1 220.8L238.6 222.6L253.2 221.8Z"/><path fill="#cc0000" stroke="#9c0000" d="M229.7 220.7L214.1 218.8L223.0 221.6Z"/><path fill="#d40000" stroke="#a20000" d="M254.6 183.3L247.7 179.8L240.7 183.7Z"/><path fill="#db0000" stroke="#a70000" d="M206.3 214.2L200.0 215.3L214.1 218.8Z"/><path fill="#b80000" stroke="#8d0000" d="M293.5 193.6L289.6 187.0L281.6 195.1Z"/><path fill="#b00000" stroke="#860000" d="M258.9 219.3L267.5 219.4L272.5 216.1Z"/><path fill="#eb0000" stroke="#b40000" d="M200.2 208.7L189.1 205.0L193.6 210.4Z"/><path fill="#ac0000" stroke="#830000" d="M285.7 206.7L295.2 200.0L285.1 200.9Z"/><path fill="#ab0000" stroke="#830000" d="M276.1 211.8L272.5 216.1L284.9 211.4Z"/><path fill="#aa0000" stroke="#820000" d="M276.1 211.8L284.9 211.4L285.7 206.7Z"/><path fill="#e00000" stroke="#ab0000" d="M217.0 186.5L212.4 180.5L203.2 184.1Z"/><path fill="#dc0000" stroke="#a80000" d="M226.3 182.5L212.4 180.5L217.0 186.5Z"/><path fill="#b90000" stroke="#8d0000" d="M258.9 219.3L245.1 220.8L253.2 221.8Z"/><path fill="#c20000" stroke="#950000" d="M245.1 220.8L229.7 220.7L238.6 222.6Z"/><path fill="#ef0000" stroke="#b70000" d="M200.2 208.7L193.5 201.8L189.1 205.0Z"/><path fill="#b50000" stroke="#8b0000" d="M285.1 200.9L293.5 193.6L281.6 195.1Z"/><path fill="#e60000" stroke="#b00000" d="M200.2 208.7L193.6 210.4L206.3 214.2Z"/><path fill="#c00000" stroke="#930000" d="M281.6 195.1L289.6 187.0L276.3 188.3Z"/><path fill="#f30000" stroke="#ba0000" d="M199.7 197.3L194.9 189.0L188.2 194.0Z"/><path fill="#f30000" stroke="#ba0000" d="M199.7 197.3L188.2 194.0L193.5 201.8Z"/><path fill="#ed0000" stroke="#b50000" d="M207.8 191.8L203.2 184.1L194.9 189.0Z"/><path fill="#d60000" stroke="#a30000" d="M261.5 189.0L269.5 182.1L254.6 183.3Z"/><path fill="#cf0000" stroke="#9e0000" d="M276.3 188.3L269.5 182.1L261.5 189.0Z"/><path fill="#b40000" stroke="#8a0000" d="M263.7 215.6L258.9 219.3L272.5 216.1Z"/><path fill="#d20000" stroke="#a00000" d="M221.0 216.8L214.1 218.8L229.7 220.7Z"/><path fill="#d90000" stroke="#a60000" d="M221.0 216.8L206.3 214.2L214.1 218.8Z"/><path fill="#b20000" stroke="#880000" d="M276.2 206.9L285.7 206.7L285.1 200.9Z"/><path fill="#db0000" stroke="#a70000" d="M240.7 183.7L226.3 182.5L232.1 188.2Z"/><path fill="#b30000" stroke="#890000" d="M263.7 215.6L272.5 216.1L276.1 211.8Z"/><path fill="#b10000" stroke="#880000" d="M276.1 211.8L285.7 206.7L276.2 206.9Z"/><path fill="#e80000" stroke="#b10000" d="M217.0 186.5L203.2 184.1L207.8 191.8Z"/><path fill="#ef0000" stroke="#b70000" d="M207.8 191.8L194.9 189.0L199.7 197.3Z"/><path fill="#d90000" stroke="#a60000" d="M247.0 189.2L254.6 183.3L240.7 183.7Z"/><path fill="#dc0000" stroke="#a80000" d="M232.1 188.2L226.3 182.5L217.0 186.5Z"/><path fill="#ed0000" stroke="#b50000" d="M206.2 205.2L193.5 201.8L200.2 208.7Z"/><path fill="#be0000" stroke="#910000" d="M251.1 217.3L245.1 220.8L258.9 219.3Z"/><path fill="#c80000" stroke="#990000" d="M236.5 217.8L229.7 220.7L245.1 220.8Z"/><path fill="#bb0000" stroke="#8f0000" d="M285.1 200.9L281.6 195.1L272.6 202.1Z"/><path fill="#e40000" stroke="#af0000" d="M213.5 211.6L200.2 208.7L206.3 214.2Z"/><path fill="#ef0000" stroke="#b70000" d="M206.2 205.2L199.7 197.3L193.5 201.8Z"/><path fill="#c40000" stroke="#960000" d="M281.6 195.1L276.3 188.3L267.7 195.9Z"/><path fill="#d50000" stroke="#a30000" d="M261.5 189.0L254.6 183.3L247.0 189.2Z"/><path fill="#bc0000" stroke="#900000" d="M263.7 215.6L251.1 217.3L258.9 219.3Z"/><path fill="#b90000" stroke="#8e0000" d="M276.2 206.9L285.1 200.9L272.6 202.1Z"/><path fill="#b60000" stroke="#8c0000" d="M267.5 211.4L263.7 215.6L276.1 211.8Z"/><path fill="#b60000" stroke="#8b0000" d="M267.5 211.4L276.1 211.8L276.2 206.9Z"/><path fill="#d90000" stroke="#a60000" d="M247.0 189.2L240.7 183.7L232.1 188.2Z"/><path fill="#d00000" stroke="#9f0000" d="M236.5 217.8L221.0 216.8L229.7 220.7Z"/><path fill="#de0000" stroke="#aa0000" d="M213.5 211.6L206.3 214.2L221.0 216.8Z"/><path fill="#cc0000" stroke="#9c0000" d="M267.7 195.9L276.3 188.3L261.5 189.0Z"/><path fill="#e80000" stroke="#b10000" d="M213.5 211.6L206.2 205.2L200.2 208.7Z"/><path fill="#c60000" stroke="#970000" d="M251.1 217.3L236.5 217.8L245.1 220.8Z"/><path fill="#e60000" stroke="#b00000" d="M222.9 194.0L217.0 186.5L207.8 191.8Z"/><path fill="#c20000" stroke="#950000" d="M272.6 202.1L281.6 195.1L267.7 195.9Z"/><path fill="#ec0000" stroke="#b50000" d="M213.9 200.1L207.8 191.8L199.7 197.3Z"/><path fill="#e20000" stroke="#ad0000" d="M232.1 188.2L217.0 186.5L222.9 194.0Z"/><path fill="#ec0000" stroke="#b50000" d="M213.9 200.1L199.7 197.3L206.2 205.2Z"/><path fill="#be0000" stroke="#910000" d="M267.5 211.4L256.1 213.0L263.7 215.6Z"/><path fill="#c00000" stroke="#930000" d="M256.1 213.0L251.1 217.3L263.7 215.6Z"/><path fill="#bd0000" stroke="#910000" d="M267.5 211.4L276.2 206.9L263.8 207.6Z"/><path fill="#bf0000" stroke="#920000" d="M276.2 206.9L272.6 202.1L263.8 207.6Z"/><path fill="#d60000" stroke="#a30000" d="M253.3 195.8L261.5 189.0L247.0 189.2Z"/><path fill="#dc0000" stroke="#a80000" d="M228.2 213.4L213.5 211.6L221.0 216.8Z"/><path fill="#d40000" stroke="#a20000" d="M228.2 213.4L221.0 216.8L236.5 217.8Z"/><path fill="#e80000" stroke="#b20000" d="M222.9 194.0L207.8 191.8L213.9 200.1Z"/><path fill="#cf0000" stroke="#9f0000" d="M267.7 195.9L261.5 189.0L253.3 195.8Z"/><path fill="#dd0000" stroke="#a90000" d="M247.0 189.2L232.1 188.2L238.6 195.4Z"/><path fill="#e50000" stroke="#af0000" d="M221.0 207.6L206.2 205.2L213.5 211.6Z"/><path fill="#ca0000" stroke="#9b0000" d="M242.8 213.8L236.5 217.8L251.1 217.3Z"/><path fill="#c70000" stroke="#980000" d="M272.6 202.1L267.7 195.9L259.1 202.3Z"/><path fill="#c20000" stroke="#950000" d="M267.5 211.4L263.8 207.6L256.1 213.0Z"/><path fill="#e00000" stroke="#ab0000" d="M238.6 195.4L232.1 188.2L222.9 194.0Z"/><path fill="#e70000" stroke="#b10000" d="M221.0 207.6L213.9 200.1L206.2 205.2Z"/><path fill="#c80000" stroke="#990000" d="M256.1 213.0L242.8 213.8L251.1 217.3Z"/><path fill="#c60000" stroke="#970000" d="M263.8 207.6L272.6 202.1L259.1 202.3Z"/><path fill="#d20000" stroke="#a10000" d="M242.8 213.8L228.2 213.4L236.5 217.8Z"/><path fill="#df0000" stroke="#ab0000" d="M228.2 213.4L221.0 207.6L213.5 211.6Z"/><path fill="#d80000" stroke="#a50000" d="M253.3 195.8L247.0 189.2L238.6 195.4Z"/><path fill="#ce0000" stroke="#9e0000" d="M259.1 202.3L267.7 195.9L253.3 195.8Z"/><path fill="#e50000" stroke="#af0000" d="M229.6 201.9L222.9 194.0L213.9 200.1Z"/><path fill="#c70000" stroke="#980000" d="M263.8 207.6L251.1 208.7L256.1 213.0Z"/><path fill="#cc0000" stroke="#9c0000" d="M256.1 213.0L251.1 208.7L242.8 213.8Z"/><path fill="#e40000" stroke="#ae0000" d="M229.6 201.9L213.9 200.1L221.0 207.6Z"/><path fill="#e00000" stroke="#ac0000" d="M238.6 195.4L222.9 194.0L229.6 201.9Z"/><path fill="#cb0000" stroke="#9b0000" d="M263.8 207.6L259.1 202.3L251.1 208.7Z"/><path fill="#d60000" stroke="#a30000" d="M242.8 213.8L236.4 208.8L228.2 213.4Z"/><path fill="#dc0000" stroke="#a80000" d="M236.4 208.8L221.0 207.6L228.2 213.4Z"/><path fill="#d80000" stroke="#a50000" d="M253.3 195.8L238.6 195.4L245.1 202.6Z"/><path fill="#d20000" stroke="#a10000" d="M259.1 202.3L253.3 195.8L245.1 202.6Z"/><path fill="#d20000" stroke="#a00000" d="M251.1 208.7L236.4 208.8L242.8 213.8Z"/><path fill="#d00000" stroke="#9f0000" d="M259.1 202.3L245.1 202.6L251.1 208.7Z"/><path fill="#de0000" stroke="#aa0000" d="M236.4 208.8L229.6 201.9L221.0 207.6Z"/><path fill="#dc0000" stroke="#a80000" d="M245.1 202.6L238.6 195.4L229.6 201.9Z"/><path fill="#d50000" stroke="#a30000" d="M251.1 208.7L245.1 202.6L236.4 208.8Z"/><path fill="#da0000" stroke="#a70000" d="M245.1 202.6L229.6 201.9L236.4 208.8Z"/></g></g>
<g transform="matrix(0.54817 0 0 0.54817 200.290 -30.670)"><g id="figure_1_b"> <g id="pane3d_1_b"> <g id="patch_3_b"> <path d="M 123.2 241.97 L 211.08 168.31 L 209.85 62.07 L 117.77 129.27 " style="fill: #f2f2f2; opacity: 0.5; stroke: #f2f2f2; stroke-linejoin: miter"/> </g> </g> <g id="pane3d_2_b"> <g id="patch_4_b"> <path d="M 211.08 168.31 L 352.09 209.29 L 357.12 99.4 L 209.85 62.07 " style="fill: #e6e6e6; opacity: 0.5; stroke: #e6e6e6; stroke-linejoin: miter"/> </g> </g> <g id="pane3d_3_b"> <g id="patch_5_b"> <path d="M 123.2 241.97 L 272.68 290.79 L 352.09 209.29 L 211.08 168.31 " style="fill: #ececec; opacity: 0.5; stroke: #ececec; stroke-linejoin: miter"/> </g> </g> <g id="grid3d_1_b"> <g id="Line3DCollection_1_b"> <path d="M 123.2 241.97 L 211.08 168.31 L 209.85 62.07 " style="fill: none; stroke: #c4c4c4; stroke-width: 0.8"/> <path d="M 159.11 253.7 L 245.07 178.19 L 245.3 71.06 " style="fill: none; stroke: #c4c4c4; stroke-width: 0.8"/> <path d="M 195.97 265.74 L 279.88 188.31 L 281.63 80.27 " style="fill: none; stroke: #c4c4c4; stroke-width: 0.8"/> <path d="M 233.81 278.1 L 315.54 198.67 L 318.9 89.71 " style="fill: none; stroke: #c4c4c4; stroke-width: 0.8"/> <path d="M 272.68 290.79 L 352.09 209.29 L 357.12 99.4 " style="fill: none; stroke: #c4c4c4; stroke-width: 0.8"/> </g> </g> <g id="grid3d_2_b"> <g id="Line3DCollection_2_b"> <path d="M 117.77 129.27 L 123.2 241.97 L 272.68 290.79 " style="fill: none; stroke: #c4c4c4; stroke-width: 0.8"/> <path d="M 142.36 111.33 L 146.6 222.35 L 293.9 269.02 " style="fill: none; stroke: #c4c4c4; stroke-width: 0.8"/> <path d="M 165.86 94.18 L 169.01 203.57 L 314.16 248.22 " style="fill: none; stroke: #c4c4c4; stroke-width: 0.8"/> <path d="M 188.34 77.78 L 190.48 185.57 L 333.54 228.33 " style="fill: none; stroke: #c4c4c4; stroke-width: 0.8"/> <path d="M 209.85 62.07 L 211.08 168.31 L 352.09 209.29 " style="fill: none; stroke: #c4c4c4; stroke-width: 0.8"/> </g> </g> <g id="grid3d_3_b"> <g id="Line3DCollection_3_b"> <path d="M 352.09 209.29 L 211.08 168.31 L 123.2 241.97 " style="fill: none; stroke: #c4c4c4; stroke-width: 0.8"/> <path d="M 353.31 182.71 L 210.78 142.57 L 121.89 214.75 " style="fill: none; stroke: #c4c4c4; stroke-width: 0.8"/> <path d="M 354.55 155.55 L 210.48 116.3 L 120.55 186.9 " style="fill: none; stroke: #c4c4c4; stroke-width: 0.8"/> <path d="M 355.82 127.79 L 210.17 89.47 L 119.17 158.42 " style="fill: none; stroke: #c4c4c4; stroke-width: 0.8"/> <path d="M 357.12 99.4 L 209.85 62.07 L 117.77 129.27 " style="fill: none; stroke: #c4c4c4; stroke-width: 0.8"/> </g> </g> <g id="axis3d_1_b"> <g id="line2d_1_b"> <path d="M 123.2 241.97 L 272.68 290.79 " style="fill:none;stroke:#c4c4c4;stroke-width:0.8"/> </g> <g id="xtick_1_b"> <g id="line2d_2_b"> <path d="M 123.96 241.33 L 121.66 243.25 " style="fill: none; stroke: #666666; stroke-width: 0.8; stroke-linecap: square"/> </g> <g id="text_1_b"> <text style="font-size: 12.5px;  font-family: 'DejaVu Sans', sans-serif; text-anchor: middle" x="120.64" y="259.08" transform="rotate(-0 120.64 259.08)">−4</text> </g> </g> <g id="xtick_2_b"> <g id="line2d_3_b"> <path d="M 159.86 253.04 L 157.61 255.02 " style="fill: none; stroke: #666666; stroke-width: 0.8; stroke-linecap: square"/> </g> <g id="text_2_b"> <text style="font-size: 12.5px;  font-family: 'DejaVu Sans', sans-serif; text-anchor: middle" x="156.59" y="271.06" transform="rotate(-0 156.59 271.06)">−2</text> </g> </g> <g id="xtick_3_b"> <g id="line2d_4_b"> <path d="M 196.7 265.06 L 194.5 267.09 " style="fill: none; stroke: #666666; stroke-width: 0.8; stroke-linecap: square"/> </g> <g id="text_3_b"> <text style="font-size: 12.5px;  font-family: 'DejaVu Sans', sans-serif; text-anchor: middle" x="193.49" y="283.36" transform="rotate(-0 193.49 283.36)">0</text> </g> </g> <g id="xtick_4_b"> <g id="line2d_5_b"> <path d="M 234.53 277.4 L 232.38 279.49 " style="fill: none; stroke: #666666; stroke-width: 0.8; stroke-linecap: square"/> </g> <g id="text_4_b"> <text style="font-size: 12.5px;  font-family: 'DejaVu Sans', sans-serif; text-anchor: middle" x="231.38" y="295.98" transform="rotate(-0 231.38 295.98)">2</text> </g> </g> <g id="xtick_5_b"> <g id="line2d_6_b"> <path d="M 273.37 290.08 L 271.29 292.22 " style="fill: none; stroke: #666666; stroke-width: 0.8; stroke-linecap: square"/> </g> <g id="text_5_b"> <text style="font-size: 12.5px;  font-family: 'DejaVu Sans', sans-serif; text-anchor: middle" x="270.3" y="308.95" transform="rotate(-0 270.3 308.95)">4</text> </g> </g> <g id="text_6_b"> <text style="font-size: 12.5px;  font-family: 'DejaVu Sans', sans-serif; text-anchor: middle" x="184.14" y="295.98" transform="rotate(-341.91 184.14 295.98)">x (μm)</text> </g> </g> <g id="axis3d_2_b"> <g id="line2d_7_b"> <path d="M 352.09 209.29 L 272.68 290.79 " style="fill:none;stroke:#c4c4c4;stroke-width:0.8"/> </g> <g id="xtick_6_b"> <g id="line2d_8_b"> <path d="M 271.42 290.38 L 275.2 291.61 " style="fill: none; stroke: #666666; stroke-width: 0.8; stroke-linecap: square"/> </g> <g id="text_7_b"> <text style="font-size: 12.5px;  font-family: 'DejaVu Sans', sans-serif; text-anchor: middle" x="279.54" y="307.52" transform="rotate(-0 279.54 307.52)">−4</text> </g> </g> <g id="xtick_7_b"> <g id="line2d_9_b"> <path d="M 292.66 268.62 L 296.38 269.8 " style="fill: none; stroke: #666666; stroke-width: 0.8; stroke-linecap: square"/> </g> <g id="text_8_b"> <text style="font-size: 12.5px;  font-family: 'DejaVu Sans', sans-serif; text-anchor: middle" x="300.47" y="285.42" transform="rotate(-0 300.47 285.42)">−2</text> </g> </g> <g id="xtick_8_b"> <g id="line2d_10_b"> <path d="M 312.94 247.84 L 316.61 248.97 " style="fill: none; stroke: #666666; stroke-width: 0.8; stroke-linecap: square"/> </g> <g id="text_9_b"> <text style="font-size: 12.5px;  font-family: 'DejaVu Sans', sans-serif; text-anchor: middle" x="320.47" y="264.32" transform="rotate(-0 320.47 264.32)">0</text> </g> </g> <g id="xtick_9_b"> <g id="line2d_11_b"> <path d="M 332.34 227.97 L 335.95 229.05 " style="fill: none; stroke: #666666; stroke-width: 0.8; stroke-linecap: square"/> </g> <g id="text_10_b"> <text style="font-size: 12.5px;  font-family: 'DejaVu Sans', sans-serif; text-anchor: middle" x="339.59" y="244.13" transform="rotate(-0 339.59 244.13)">2</text> </g> </g> <g id="xtick_10_b"> <g id="line2d_12_b"> <path d="M 350.91 208.95 L 354.46 209.98 " style="fill: none; stroke: #666666; stroke-width: 0.8; stroke-linecap: square"/> </g> <g id="text_11_b"> <text style="font-size: 12.5px;  font-family: 'DejaVu Sans', sans-serif; text-anchor: middle" x="357.88" y="224.82" transform="rotate(-0 357.88 224.82)">4</text> </g> </g> <g id="text_12_b"> <text style="font-size: 12.5px;  font-family: 'DejaVu Sans', sans-serif; text-anchor: middle" x="337.14" y="268.67" transform="rotate(-45.74 337.14 268.67)">y (μm)</text> </g> </g> <g id="axis3d_3_b"> <g id="line2d_13_b"> <path d="M 352.09 209.29 L 357.12 99.4 " style="fill:none;stroke:#c4c4c4;stroke-width:0.8"/> </g> <g id="xtick_11_b"> <g id="line2d_14_b"> <path d="M 350.91 208.95 L 354.46 209.98 " style="fill: none; stroke: #666666; stroke-width: 0.8; stroke-linecap: square"/> </g> <g id="text_13_b"> <text style="font-size: 12.5px;  font-family: 'DejaVu Sans', sans-serif; text-anchor: middle" x="360.83" y="216" transform="rotate(-0 360.83 216)">−4</text> </g> </g> <g id="xtick_12_b"> <g id="line2d_15_b"> <path d="M 352.11 182.38 L 355.7 183.39 " style="fill: none; stroke: #666666; stroke-width: 0.8; stroke-linecap: square"/> </g> <g id="text_14_b"> <text style="font-size: 12.5px;  font-family: 'DejaVu Sans', sans-serif; text-anchor: middle" x="362.24" y="191.32" transform="rotate(-0 362.24 191.32)">−2</text> </g> </g> <g id="xtick_13_b"> <g id="line2d_16_b"> <path d="M 353.34 155.22 L 356.98 156.21 " style="fill: none; stroke: #666666; stroke-width: 0.8; stroke-linecap: square"/> </g> <g id="text_15_b"> <text style="font-size: 12.5px;  font-family: 'DejaVu Sans', sans-serif; text-anchor: middle" x="363.68" y="164.21" transform="rotate(-0 363.68 164.21)">0</text> </g> </g> <g id="xtick_14_b"> <g id="line2d_17_b"> <path d="M 354.6 127.47 L 358.27 128.43 " style="fill: none; stroke: #666666; stroke-width: 0.8; stroke-linecap: square"/> </g> <g id="text_16_b"> <text style="font-size: 12.5px;  font-family: 'DejaVu Sans', sans-serif; text-anchor: middle" x="365.16" y="136.51" transform="rotate(-0 365.16 136.51)">2</text> </g> </g> <g id="xtick_15_b"> <g id="line2d_18_b"> <path d="M 355.88 99.09 L 359.6 100.03 " style="fill: none; stroke: #666666; stroke-width: 0.8; stroke-linecap: square"/> </g> <g id="text_17_b"> <text style="font-size: 12.5px;  font-family: 'DejaVu Sans', sans-serif; text-anchor: middle" x="366.66" y="108.18" transform="rotate(-0 366.66 108.18)">4</text> </g> </g> <g id="text_18_b"> <text style="font-size: 12.5px;  font-family: 'DejaVu Sans', sans-serif; text-anchor: middle" x="386.37" y="151.22" transform="rotate(-87.38 386.37 151.22)">z (μm)</text> </g> </g> <g id="axes_1_b"/> </g> <g stroke-width="1.1" stroke-linejoin="round" filter="url(#sm)"><path fill="#c90000" stroke="#9a0000" d="M233.1 123.2L246.8 123.4L240.8 123.1Z"/><path fill="#bd0000" stroke="#910000" d="M255.3 123.9L260.9 124.9L269.2 126.2Z"/><path fill="#c40000" stroke="#960000" d="M246.8 123.4L260.9 124.9L255.3 123.9Z"/><path fill="#d30000" stroke="#a20000" d="M233.1 123.2L238.9 125.5L246.8 123.4Z"/><path fill="#d60000" stroke="#a40000" d="M219.6 124.4L225.9 125.9L233.1 123.2Z"/><path fill="#b40000" stroke="#8a0000" d="M269.2 126.2L273.9 127.6L281.5 129.6Z"/><path fill="#bd0000" stroke="#900000" d="M260.9 124.9L273.9 127.6L269.2 126.2Z"/><path fill="#db0000" stroke="#a70000" d="M205.9 127.1L212.0 127.3L219.6 124.4Z"/><path fill="#d10000" stroke="#a00000" d="M246.8 123.4L252.3 126.5L260.9 124.9Z"/><path fill="#d30000" stroke="#a20000" d="M233.1 123.2L225.9 125.9L238.9 125.5Z"/><path fill="#d20000" stroke="#a00000" d="M238.9 125.5L252.3 126.5L246.8 123.4Z"/><path fill="#d60000" stroke="#a30000" d="M219.6 124.4L212.0 127.3L225.9 125.9Z"/><path fill="#e10000" stroke="#ac0000" d="M193.2 131.4L198.4 130.3L205.9 127.1Z"/><path fill="#cc0000" stroke="#9c0000" d="M260.9 124.9L265.4 128.3L273.9 127.6Z"/><path fill="#d00000" stroke="#9f0000" d="M252.3 126.5L265.4 128.3L260.9 124.9Z"/><path fill="#b40000" stroke="#8a0000" d="M281.5 129.6L273.9 127.6L285.7 131.5Z"/><path fill="#db0000" stroke="#a70000" d="M205.9 127.1L198.4 130.3L212.0 127.3Z"/><path fill="#aa0000" stroke="#820000" d="M281.5 129.6L285.7 131.5L292.8 134.5Z"/><path fill="#d90000" stroke="#a60000" d="M225.9 125.9L232.3 130.7L238.9 125.5Z"/><path fill="#db0000" stroke="#a70000" d="M238.9 125.5L244.4 130.3L252.3 126.5Z"/><path fill="#d80000" stroke="#a50000" d="M212.0 127.3L218.9 131.4L225.9 125.9Z"/><path fill="#d90000" stroke="#a60000" d="M238.9 125.5L232.3 130.7L244.4 130.3Z"/><path fill="#dc0000" stroke="#a80000" d="M252.3 126.5L256.9 131.7L265.4 128.3Z"/><path fill="#cc0000" stroke="#9c0000" d="M273.9 127.6L265.4 128.3L277.0 131.4Z"/><path fill="#e20000" stroke="#ad0000" d="M193.2 131.4L186.6 134.7L198.4 130.3Z"/><path fill="#d50000" stroke="#a30000" d="M225.9 125.9L218.9 131.4L232.3 130.7Z"/><path fill="#db0000" stroke="#a70000" d="M244.4 130.3L256.9 131.7L252.3 126.5Z"/><path fill="#c60000" stroke="#970000" d="M273.9 127.6L277.0 131.4L285.7 131.5Z"/><path fill="#dc0000" stroke="#a80000" d="M198.4 130.3L205.2 132.7L212.0 127.3Z"/><path fill="#a90000" stroke="#820000" d="M292.8 134.5L285.7 131.5L296.9 137.0Z"/><path fill="#d40000" stroke="#a20000" d="M212.0 127.3L205.2 132.7L218.9 131.4Z"/><path fill="#da0000" stroke="#a70000" d="M232.3 130.7L238.2 137.4L244.4 130.3Z"/><path fill="#dc0000" stroke="#a90000" d="M265.4 128.3L256.9 131.7L267.6 134.5Z"/><path fill="#e00000" stroke="#ab0000" d="M244.4 130.3L249.1 136.4L256.9 131.7Z"/><path fill="#dd0000" stroke="#a90000" d="M265.4 128.3L267.6 134.5L277.0 131.4Z"/><path fill="#ea0000" stroke="#b30000" d="M182.7 136.8L177.4 140.1L186.6 134.7Z"/><path fill="#d50000" stroke="#a30000" d="M218.9 131.4L225.8 138.2L232.3 130.7Z"/><path fill="#de0000" stroke="#aa0000" d="M244.4 130.3L238.2 137.4L249.1 136.4Z"/><path fill="#e30000" stroke="#ae0000" d="M186.6 134.7L192.5 135.2L198.4 130.3Z"/><path fill="#c60000" stroke="#970000" d="M285.7 131.5L277.0 131.4L288.7 135.6Z"/><path fill="#d60000" stroke="#a40000" d="M232.3 130.7L225.8 138.2L238.2 137.4Z"/><path fill="#d80000" stroke="#a50000" d="M198.4 130.3L192.5 135.2L205.2 132.7Z"/><path fill="#ba0000" stroke="#8f0000" d="M285.7 131.5L288.7 135.6L296.9 137.0Z"/><path fill="#e10000" stroke="#ac0000" d="M256.9 131.7L249.1 136.4L258.6 139.7Z"/><path fill="#d30000" stroke="#a10000" d="M205.2 132.7L212.6 138.6L218.9 131.4Z"/><path fill="#e50000" stroke="#af0000" d="M256.9 131.7L258.6 139.7L267.6 134.5Z"/><path fill="#ce0000" stroke="#9e0000" d="M218.9 131.4L212.6 138.6L225.8 138.2Z"/><path fill="#de0000" stroke="#aa0000" d="M249.1 136.4L238.2 137.4L247.0 144.4Z"/><path fill="#9d0000" stroke="#780000" d="M302.9 140.7L296.9 137.0L306.3 143.7Z"/><path fill="#de0000" stroke="#aa0000" d="M277.0 131.4L267.6 134.5L279.0 137.9Z"/><path fill="#eb0000" stroke="#b40000" d="M177.4 140.1L182.0 139.2L186.6 134.7Z"/><path fill="#d60000" stroke="#a40000" d="M238.2 137.4L225.8 138.2L234.9 146.3Z"/><path fill="#e50000" stroke="#af0000" d="M247.0 144.4L258.6 139.7L249.1 136.4Z"/><path fill="#d90000" stroke="#a60000" d="M277.0 131.4L279.0 137.9L288.7 135.6Z"/><path fill="#e20000" stroke="#ad0000" d="M186.6 134.7L182.0 139.2L192.5 135.2Z"/><path fill="#dd0000" stroke="#a90000" d="M238.2 137.4L234.9 146.3L247.0 144.4Z"/><path fill="#d60000" stroke="#a40000" d="M192.5 135.2L199.7 139.2L205.2 132.7Z"/><path fill="#cb0000" stroke="#9b0000" d="M205.2 132.7L199.7 139.2L212.6 138.6Z"/><path fill="#e70000" stroke="#b10000" d="M267.6 134.5L258.6 139.7L269.1 142.9Z"/><path fill="#ce0000" stroke="#9d0000" d="M225.8 138.2L212.6 138.6L221.5 147.0Z"/><path fill="#ba0000" stroke="#8f0000" d="M296.9 137.0L288.7 135.6L299.3 141.2Z"/><path fill="#d00000" stroke="#9f0000" d="M225.8 138.2L221.5 147.0L234.9 146.3Z"/><path fill="#e80000" stroke="#b10000" d="M267.6 134.5L269.1 142.9L279.0 137.9Z"/><path fill="#e50000" stroke="#af0000" d="M257.0 148.7L258.6 139.7L247.0 144.4Z"/><path fill="#ac0000" stroke="#830000" d="M296.9 137.0L299.3 141.2L306.3 143.7Z"/><path fill="#ec0000" stroke="#b50000" d="M177.4 140.1L174.0 144.1L182.0 139.2Z"/><path fill="#f20000" stroke="#b90000" d="M177.4 140.1L169.4 146.9L174.0 144.1Z"/><path fill="#eb0000" stroke="#b40000" d="M257.0 148.7L269.1 142.9L258.6 139.7Z"/><path fill="#dd0000" stroke="#a90000" d="M247.0 144.4L234.9 146.3L244.3 154.3Z"/><path fill="#e10000" stroke="#ac0000" d="M182.0 139.2L188.4 140.9L192.5 135.2Z"/><path fill="#d10000" stroke="#9f0000" d="M192.5 135.2L188.4 140.9L199.7 139.2Z"/><path fill="#da0000" stroke="#a70000" d="M288.7 135.6L279.0 137.9L290.1 141.9Z"/><path fill="#ca0000" stroke="#9a0000" d="M212.6 138.6L199.7 139.2L207.7 146.5Z"/><path fill="#c50000" stroke="#960000" d="M212.6 138.6L207.7 146.5L221.5 147.0Z"/><path fill="#910000" stroke="#6f0000" d="M310.9 147.8L306.3 143.7L313.2 151.1Z"/><path fill="#e60000" stroke="#b00000" d="M244.3 154.3L257.0 148.7L247.0 144.4Z"/><path fill="#d00000" stroke="#9f0000" d="M234.9 146.3L221.5 147.0L231.4 156.4Z"/><path fill="#ce0000" stroke="#9d0000" d="M288.7 135.6L290.1 141.9L299.3 141.2Z"/><path fill="#870000" stroke="#670000" d="M313.2 151.1L316.7 155.7L310.9 147.8Z"/><path fill="#d90000" stroke="#a60000" d="M234.9 146.3L231.4 156.4L244.3 154.3Z"/><path fill="#ea0000" stroke="#b30000" d="M279.0 137.9L269.1 142.9L279.8 145.9Z"/><path fill="#ec0000" stroke="#b40000" d="M174.0 144.1L179.2 144.1L182.0 139.2Z"/><path fill="#ed0000" stroke="#b50000" d="M267.9 152.1L269.1 142.9L257.0 148.7Z"/><path fill="#f40000" stroke="#bb0000" d="M169.4 146.9L167.4 150.8L174.0 144.1Z"/><path fill="#de0000" stroke="#aa0000" d="M182.0 139.2L179.2 144.1L188.4 140.9Z"/><path fill="#e60000" stroke="#b00000" d="M279.0 137.9L279.8 145.9L290.1 141.9Z"/><path fill="#ac0000" stroke="#830000" d="M306.3 143.7L299.3 141.2L307.6 148.0Z"/><path fill="#e70000" stroke="#b10000" d="M254.7 159.0L257.0 148.7L244.3 154.3Z"/><path fill="#cf0000" stroke="#9e0000" d="M199.7 139.2L188.4 140.9L194.9 146.2Z"/><path fill="#f70000" stroke="#bd0000" d="M169.4 146.9L163.5 154.7L167.4 150.8Z"/><path fill="#c10000" stroke="#940000" d="M199.7 139.2L194.9 146.2L207.7 146.5Z"/><path fill="#c50000" stroke="#960000" d="M221.5 147.0L207.7 146.5L217.4 156.2Z"/><path fill="#c70000" stroke="#980000" d="M221.5 147.0L217.4 156.2L231.4 156.4Z"/><path fill="#9e0000" stroke="#780000" d="M306.3 143.7L307.6 148.0L313.2 151.1Z"/><path fill="#ee0000" stroke="#b60000" d="M267.9 152.1L279.8 145.9L269.1 142.9Z"/><path fill="#ed0000" stroke="#b60000" d="M254.7 159.0L267.9 152.1L257.0 148.7Z"/><path fill="#d90000" stroke="#a60000" d="M244.3 154.3L231.4 156.4L241.3 163.8Z"/><path fill="#ce0000" stroke="#9e0000" d="M299.3 141.2L290.1 141.9L299.6 146.9Z"/><path fill="#eb0000" stroke="#b40000" d="M174.0 144.1L172.3 148.2L179.2 144.1Z"/><path fill="#f30000" stroke="#ba0000" d="M174.0 144.1L167.4 150.8L172.3 148.2Z"/><path fill="#870000" stroke="#670000" d="M317.9 159.4L316.7 155.7L313.2 151.1Z"/><path fill="#e40000" stroke="#ae0000" d="M241.3 163.8L254.7 159.0L244.3 154.3Z"/><path fill="#bc0000" stroke="#900000" d="M299.3 141.2L299.6 146.9L307.6 148.0Z"/><path fill="#dd0000" stroke="#a90000" d="M188.4 140.9L179.2 144.1L184.1 147.4Z"/><path fill="#ca0000" stroke="#9b0000" d="M188.4 140.9L184.1 147.4L194.9 146.2Z"/><path fill="#7e0000" stroke="#600000" d="M317.9 159.4L320.4 164.6L316.7 155.7Z"/><path fill="#e70000" stroke="#b10000" d="M290.1 141.9L279.8 145.9L289.8 149.1Z"/><path fill="#ba0000" stroke="#8e0000" d="M207.7 146.5L203.5 154.4L217.4 156.2Z"/><path fill="#c10000" stroke="#940000" d="M207.7 146.5L194.9 146.2L203.5 154.4Z"/><path fill="#c70000" stroke="#980000" d="M231.4 156.4L217.4 156.2L227.9 165.2Z"/><path fill="#fa0000" stroke="#bf0000" d="M167.4 150.8L163.5 154.7L163.4 157.8Z"/><path fill="#d00000" stroke="#9f0000" d="M231.4 156.4L227.9 165.2L241.3 163.8Z"/><path fill="#f00000" stroke="#b70000" d="M278.8 154.4L279.8 145.9L267.9 152.1Z"/><path fill="#9d0000" stroke="#780000" d="M313.2 151.1L307.6 148.0L313.3 155.1Z"/><path fill="#dc0000" stroke="#a80000" d="M290.1 141.9L289.8 149.1L299.6 146.9Z"/><path fill="#fb0000" stroke="#c00000" d="M163.5 154.7L159.9 162.6L163.4 157.8Z"/><path fill="#ef0000" stroke="#b70000" d="M265.7 161.6L267.9 152.1L254.7 159.0Z"/><path fill="#ea0000" stroke="#b30000" d="M179.2 144.1L172.3 148.2L175.8 150.3Z"/><path fill="#920000" stroke="#700000" d="M313.3 155.1L317.9 159.4L313.2 151.1Z"/><path fill="#f50000" stroke="#bb0000" d="M172.3 148.2L167.4 150.8L168.4 154.1Z"/><path fill="#ec0000" stroke="#b50000" d="M278.8 154.4L289.8 149.1L279.8 145.9Z"/><path fill="#dd0000" stroke="#a90000" d="M179.2 144.1L175.8 150.3L184.1 147.4Z"/><path fill="#e50000" stroke="#af0000" d="M251.7 167.9L254.7 159.0L241.3 163.8Z"/><path fill="#f00000" stroke="#b80000" d="M265.7 161.6L278.8 154.4L267.9 152.1Z"/><path fill="#f80000" stroke="#be0000" d="M167.4 150.8L163.4 157.8L168.4 154.1Z"/><path fill="#bc0000" stroke="#900000" d="M307.6 148.0L299.6 146.9L306.8 152.9Z"/><path fill="#cb0000" stroke="#9b0000" d="M194.9 146.2L184.1 147.4L191.2 153.2Z"/><path fill="#bb0000" stroke="#8f0000" d="M194.9 146.2L191.2 153.2L203.5 154.4Z"/><path fill="#ba0000" stroke="#8f0000" d="M217.4 156.2L203.5 154.4L213.8 163.6Z"/><path fill="#bc0000" stroke="#900000" d="M217.4 156.2L213.8 163.6L227.9 165.2Z"/><path fill="#fc0000" stroke="#c10000" d="M159.9 162.6L158.7 167.9L158.4 171.7Z"/><path fill="#eb0000" stroke="#b40000" d="M251.7 167.9L265.7 161.6L254.7 159.0Z"/><path fill="#ab0000" stroke="#820000" d="M307.6 148.0L306.8 152.9L313.3 155.1Z"/><path fill="#ef0000" stroke="#b70000" d="M168.4 154.1L175.8 150.3L172.3 148.2Z"/><path fill="#800000" stroke="#620000" d="M320.2 168.5L320.4 164.6L317.9 159.4Z"/><path fill="#d10000" stroke="#a00000" d="M241.3 163.8L227.9 165.2L238.2 170.8Z"/><path fill="#dc0000" stroke="#a80000" d="M299.6 146.9L289.8 149.1L298.1 153.0Z"/><path fill="#770000" stroke="#5b0000" d="M320.2 168.5L321.4 173.9L320.4 164.6Z"/><path fill="#dc0000" stroke="#a80000" d="M238.2 170.8L251.7 167.9L241.3 163.8Z"/><path fill="#fd0000" stroke="#c10000" d="M163.4 157.8L159.9 162.6L161.0 166.2Z"/><path fill="#930000" stroke="#710000" d="M316.6 163.3L317.9 159.4L313.3 155.1Z"/><path fill="#dd0000" stroke="#a90000" d="M184.1 147.4L175.8 150.3L181.3 154.1Z"/><path fill="#ca0000" stroke="#9a0000" d="M299.6 146.9L298.1 153.0L306.8 152.9Z"/><path fill="#ed0000" stroke="#b50000" d="M288.5 156.6L289.8 149.1L278.8 154.4Z"/><path fill="#c90000" stroke="#9a0000" d="M184.1 147.4L181.3 154.1L191.2 153.2Z"/><path fill="#fe0000" stroke="#c20000" d="M159.9 162.6L158.4 171.7L161.0 166.2Z"/><path fill="#f90000" stroke="#bf0000" d="M168.4 154.1L163.4 157.8L165.6 161.4Z"/><path fill="#8a0000" stroke="#690000" d="M316.6 163.3L320.2 168.5L317.9 159.4Z"/><path fill="#ef0000" stroke="#b70000" d="M172.5 156.7L175.8 150.3L168.4 154.1Z"/><path fill="#f00000" stroke="#b80000" d="M276.4 162.6L278.8 154.4L265.7 161.6Z"/><path fill="#bb0000" stroke="#8f0000" d="M203.5 154.4L191.2 153.2L200.4 160.9Z"/><path fill="#b40000" stroke="#8a0000" d="M203.5 154.4L200.4 160.9L213.8 163.6Z"/><path fill="#aa0000" stroke="#820000" d="M313.3 155.1L306.8 152.9L311.5 159.3Z"/><path fill="#bd0000" stroke="#900000" d="M227.9 165.2L213.8 163.6L224.6 170.7Z"/><path fill="#e20000" stroke="#ad0000" d="M288.5 156.6L298.1 153.0L289.8 149.1Z"/><path fill="#c60000" stroke="#970000" d="M227.9 165.2L224.6 170.7L238.2 170.8Z"/><path fill="#eb0000" stroke="#b40000" d="M262.5 169.1L265.7 161.6L251.7 167.9Z"/><path fill="#fc0000" stroke="#c10000" d="M163.4 157.8L161.0 166.2L165.6 161.4Z"/><path fill="#9d0000" stroke="#780000" d="M311.5 159.3L316.6 163.3L313.3 155.1Z"/><path fill="#e20000" stroke="#ad0000" d="M172.5 156.7L181.3 154.1L175.8 150.3Z"/><path fill="#ec0000" stroke="#b50000" d="M276.4 162.6L288.5 156.6L278.8 154.4Z"/><path fill="#f50000" stroke="#bb0000" d="M165.6 161.4L172.5 156.7L168.4 154.1Z"/><path fill="#fc0000" stroke="#c00000" d="M158.4 171.7L158.6 177.3L159.8 181.1Z"/><path fill="#7b0000" stroke="#5e0000" d="M319.9 177.4L321.4 173.9L320.2 168.5Z"/><path fill="#ca0000" stroke="#9a0000" d="M306.8 152.9L298.1 153.0L304.3 158.0Z"/><path fill="#dc0000" stroke="#a80000" d="M248.3 173.4L251.7 167.9L238.2 170.8Z"/><path fill="#ec0000" stroke="#b50000" d="M262.5 169.1L276.4 162.6L265.7 161.6Z"/><path fill="#b60000" stroke="#8b0000" d="M306.8 152.9L304.3 158.0L311.5 159.3Z"/><path fill="#ca0000" stroke="#9b0000" d="M191.2 153.2L181.3 154.1L189.1 159.6Z"/><path fill="#f80000" stroke="#be0000" d="M158.6 177.3L161.3 186.5L159.8 181.1Z"/><path fill="#750000" stroke="#5a0000" d="M319.9 177.4L319.8 182.7L321.4 173.9Z"/><path fill="#bb0000" stroke="#8f0000" d="M191.2 153.2L189.1 159.6L200.4 160.9Z"/><path fill="#8d0000" stroke="#6c0000" d="M317.7 172.0L320.2 168.5L316.6 163.3Z"/><path fill="#ff0000" stroke="#c30000" d="M161.0 166.2L158.4 171.7L161.0 175.4Z"/><path fill="#e20000" stroke="#ad0000" d="M248.3 173.4L262.5 169.1L251.7 167.9Z"/><path fill="#b50000" stroke="#8a0000" d="M213.8 163.6L200.4 160.9L211.1 168.3Z"/><path fill="#b70000" stroke="#8c0000" d="M213.8 163.6L211.1 168.3L224.6 170.7Z"/><path fill="#e20000" stroke="#ad0000" d="M296.3 159.9L298.1 153.0L288.5 156.6Z"/><path fill="#c70000" stroke="#980000" d="M238.2 170.8L224.6 170.7L235.1 174.5Z"/><path fill="#9f0000" stroke="#7a0000" d="M313.6 167.2L316.6 163.3L311.5 159.3Z"/><path fill="#850000" stroke="#660000" d="M317.7 172.0L319.9 177.4L320.2 168.5Z"/><path fill="#e20000" stroke="#ad0000" d="M178.9 160.6L181.3 154.1L172.5 156.7Z"/><path fill="#fe0000" stroke="#c20000" d="M158.4 171.7L159.8 181.1L161.0 175.4Z"/><path fill="#fd0000" stroke="#c10000" d="M165.6 161.4L161.0 166.2L164.6 169.9Z"/><path fill="#d00000" stroke="#9f0000" d="M296.3 159.9L304.3 158.0L298.1 153.0Z"/><path fill="#d20000" stroke="#a00000" d="M235.1 174.5L248.3 173.4L238.2 170.8Z"/><path fill="#f50000" stroke="#bb0000" d="M170.5 164.4L172.5 156.7L165.6 161.4Z"/><path fill="#b60000" stroke="#8b0000" d="M311.5 159.3L304.3 158.0L308.5 163.4Z"/><path fill="#ec0000" stroke="#b50000" d="M285.6 163.8L288.5 156.6L276.4 162.6Z"/><path fill="#d10000" stroke="#a00000" d="M178.9 160.6L189.1 159.6L181.3 154.1Z"/><path fill="#960000" stroke="#720000" d="M313.6 167.2L317.7 172.0L316.6 163.3Z"/><path fill="#ff0000" stroke="#c30000" d="M161.0 166.2L161.0 175.4L164.6 169.9Z"/><path fill="#a80000" stroke="#800000" d="M308.5 163.4L313.6 167.2L311.5 159.3Z"/><path fill="#7b0000" stroke="#5e0000" d="M317.1 186.1L319.8 182.7L319.9 177.4Z"/><path fill="#ec0000" stroke="#b40000" d="M170.5 164.4L178.9 160.6L172.5 156.7Z"/><path fill="#eb0000" stroke="#b40000" d="M272.7 169.1L276.4 162.6L262.5 169.1Z"/><path fill="#e10000" stroke="#ac0000" d="M285.6 163.8L296.3 159.9L288.5 156.6Z"/><path fill="#f80000" stroke="#be0000" d="M159.8 181.1L161.3 186.5L163.8 190.1Z"/><path fill="#fa0000" stroke="#bf0000" d="M164.6 169.9L170.5 164.4L165.6 161.4Z"/><path fill="#bc0000" stroke="#900000" d="M200.4 160.9L189.1 159.6L198.7 165.9Z"/><path fill="#b60000" stroke="#8b0000" d="M200.4 160.9L198.7 165.9L211.1 168.3Z"/><path fill="#b80000" stroke="#8d0000" d="M224.6 170.7L211.1 168.3L222.0 173.6Z"/><path fill="#790000" stroke="#5c0000" d="M315.6 191.3L319.8 182.7L317.1 186.1Z"/><path fill="#c10000" stroke="#930000" d="M224.6 170.7L222.0 173.6L235.1 174.5Z"/><path fill="#f30000" stroke="#ba0000" d="M161.3 186.5L166.4 194.8L163.8 190.1Z"/><path fill="#e10000" stroke="#ac0000" d="M258.6 173.7L262.5 169.1L248.3 173.4Z"/><path fill="#d00000" stroke="#9f0000" d="M301.8 164.4L304.3 158.0L296.3 159.9Z"/><path fill="#890000" stroke="#690000" d="M315.9 180.3L319.9 177.4L317.7 172.0Z"/><path fill="#bd0000" stroke="#910000" d="M301.8 164.4L308.5 163.4L304.3 158.0Z"/><path fill="#e70000" stroke="#b10000" d="M272.7 169.1L285.6 163.8L276.4 162.6Z"/><path fill="#fe0000" stroke="#c20000" d="M161.0 175.4L159.8 181.1L163.6 184.6Z"/><path fill="#990000" stroke="#750000" d="M312.5 174.6L317.7 172.0L313.6 167.2Z"/><path fill="#850000" stroke="#650000" d="M317.1 186.1L319.9 177.4L315.9 180.3Z"/><path fill="#d10000" stroke="#a00000" d="M187.9 165.7L189.1 159.6L178.9 160.6Z"/><path fill="#d10000" stroke="#a00000" d="M244.7 176.2L248.3 173.4L235.1 174.5Z"/><path fill="#e30000" stroke="#ad0000" d="M258.6 173.7L272.7 169.1L262.5 169.1Z"/><path fill="#fc0000" stroke="#c00000" d="M159.8 181.1L163.8 190.1L163.6 184.6Z"/><path fill="#aa0000" stroke="#820000" d="M307.6 169.8L313.6 167.2L308.5 163.4Z"/><path fill="#ff0000" stroke="#c30000" d="M164.6 169.9L161.0 175.4L165.9 178.8Z"/><path fill="#c40000" stroke="#960000" d="M187.9 165.7L198.7 165.9L189.1 159.6Z"/><path fill="#ec0000" stroke="#b40000" d="M178.2 168.4L178.9 160.6L170.5 164.4Z"/><path fill="#e20000" stroke="#ac0000" d="M292.8 166.6L296.3 159.9L285.6 163.8Z"/><path fill="#940000" stroke="#710000" d="M315.9 180.3L317.7 172.0L312.5 174.6Z"/><path fill="#fa0000" stroke="#bf0000" d="M170.7 173.3L170.5 164.4L164.6 169.9Z"/><path fill="#b70000" stroke="#8c0000" d="M211.1 168.3L198.7 165.9L209.4 171.5Z"/><path fill="#d80000" stroke="#a50000" d="M244.7 176.2L258.6 173.7L248.3 173.4Z"/><path fill="#bb0000" stroke="#8f0000" d="M307.6 169.8L308.5 163.4L301.8 164.4Z"/><path fill="#ba0000" stroke="#8e0000" d="M211.1 168.3L209.4 171.5L222.0 173.6Z"/><path fill="#d00000" stroke="#9f0000" d="M292.8 166.6L301.8 164.4L296.3 159.9Z"/><path fill="#ff0000" stroke="#c30000" d="M161.0 175.4L163.6 184.6L165.9 178.8Z"/><path fill="#a50000" stroke="#7e0000" d="M312.5 174.6L313.6 167.2L307.6 169.8Z"/><path fill="#7f0000" stroke="#610000" d="M311.3 195.0L315.6 191.3L317.1 186.1Z"/><path fill="#f20000" stroke="#b90000" d="M163.8 190.1L166.4 194.8L169.7 197.7Z"/><path fill="#c10000" stroke="#940000" d="M235.1 174.5L222.0 173.6L232.3 176.3Z"/><path fill="#df0000" stroke="#aa0000" d="M178.2 168.4L187.9 165.7L178.9 160.6Z"/><path fill="#800000" stroke="#620000" d="M308.7 199.6L315.6 191.3L311.3 195.0Z"/><path fill="#ed0000" stroke="#b50000" d="M173.8 202.5L169.7 197.7L166.4 194.8Z"/><path fill="#fd0000" stroke="#c20000" d="M165.9 178.8L170.7 173.3L164.6 169.9Z"/><path fill="#cb0000" stroke="#9b0000" d="M232.3 176.3L244.7 176.2L235.1 174.5Z"/><path fill="#e70000" stroke="#b10000" d="M281.3 170.0L285.6 163.8L272.7 169.1Z"/><path fill="#f50000" stroke="#bb0000" d="M170.7 173.3L178.2 168.4L170.5 164.4Z"/><path fill="#8a0000" stroke="#6a0000" d="M311.5 189.3L317.1 186.1L315.9 180.3Z"/><path fill="#fb0000" stroke="#c00000" d="M163.6 184.6L163.8 190.1L168.5 192.9Z"/><path fill="#dd0000" stroke="#a90000" d="M281.3 170.0L292.8 166.6L285.6 163.8Z"/><path fill="#ba0000" stroke="#8e0000" d="M307.6 169.8L301.8 164.4L299.8 171.0Z"/><path fill="#c50000" stroke="#960000" d="M198.8 171.1L198.7 165.9L187.9 165.7Z"/><path fill="#e30000" stroke="#ae0000" d="M268.1 173.8L272.7 169.1L258.6 173.7Z"/><path fill="#f70000" stroke="#bd0000" d="M163.8 190.1L169.7 197.7L168.5 192.9Z"/><path fill="#ce0000" stroke="#9e0000" d="M299.8 171.0L301.8 164.4L292.8 166.6Z"/><path fill="#870000" stroke="#670000" d="M311.3 195.0L317.1 186.1L311.5 189.3Z"/><path fill="#990000" stroke="#750000" d="M309.2 183.1L315.9 180.3L312.5 174.6Z"/><path fill="#bf0000" stroke="#920000" d="M198.8 171.1L209.4 171.5L198.7 165.9Z"/><path fill="#ba0000" stroke="#8e0000" d="M222.0 173.6L209.4 171.5L220.1 175.4Z"/><path fill="#fe0000" stroke="#c20000" d="M165.9 178.8L163.6 184.6L169.4 187.4Z"/><path fill="#a80000" stroke="#800000" d="M305.1 177.3L312.5 174.6L307.6 169.8Z"/><path fill="#c20000" stroke="#940000" d="M222.0 173.6L220.1 175.4L232.3 176.3Z"/><path fill="#d80000" stroke="#a50000" d="M254.4 176.7L258.6 173.7L244.7 176.2Z"/><path fill="#e00000" stroke="#ab0000" d="M268.1 173.8L281.3 170.0L272.7 169.1Z"/><path fill="#950000" stroke="#720000" d="M311.5 189.3L315.9 180.3L309.2 183.1Z"/><path fill="#870000" stroke="#670000" d="M303.0 203.1L308.7 199.6L311.3 195.0Z"/><path fill="#ec0000" stroke="#b40000" d="M178.2 204.8L169.7 197.7L173.8 202.5Z"/><path fill="#fd0000" stroke="#c10000" d="M163.6 184.6L168.5 192.9L169.4 187.4Z"/><path fill="#df0000" stroke="#aa0000" d="M188.5 172.8L187.9 165.7L178.2 168.4Z"/><path fill="#fd0000" stroke="#c10000" d="M173.3 182.5L170.7 173.3L165.9 178.8Z"/><path fill="#8a0000" stroke="#690000" d="M299.8 206.8L308.7 199.6L303.0 203.1Z"/><path fill="#b60000" stroke="#8b0000" d="M305.1 177.3L307.6 169.8L299.8 171.0Z"/><path fill="#cb0000" stroke="#9b0000" d="M241.4 177.9L244.7 176.2L232.3 176.3Z"/><path fill="#a30000" stroke="#7d0000" d="M309.2 183.1L312.5 174.6L305.1 177.3Z"/><path fill="#f50000" stroke="#bb0000" d="M179.7 177.1L178.2 168.4L170.7 173.3Z"/><path fill="#e50000" stroke="#af0000" d="M183.8 209.4L178.2 204.8L173.8 202.5Z"/><path fill="#da0000" stroke="#a70000" d="M254.4 176.7L268.1 173.8L258.6 173.7Z"/><path fill="#d40000" stroke="#a20000" d="M188.5 172.8L198.8 171.1L187.9 165.7Z"/><path fill="#dd0000" stroke="#a90000" d="M289.3 173.1L292.8 166.6L281.3 170.0Z"/><path fill="#cc0000" stroke="#9c0000" d="M299.8 171.0L292.8 166.6L289.3 173.1Z"/><path fill="#fd0000" stroke="#c20000" d="M169.4 187.4L173.3 182.5L165.9 178.8Z"/><path fill="#f60000" stroke="#bc0000" d="M168.5 192.9L169.7 197.7L174.7 199.8Z"/><path fill="#d20000" stroke="#a00000" d="M241.4 177.9L254.4 176.7L244.7 176.2Z"/><path fill="#8e0000" stroke="#6d0000" d="M304.3 198.0L311.3 195.0L311.5 189.3Z"/><path fill="#c10000" stroke="#930000" d="M210.4 175.5L209.4 171.5L198.8 171.1Z"/><path fill="#c20000" stroke="#940000" d="M210.4 175.5L220.1 175.4L209.4 171.5Z"/><path fill="#c20000" stroke="#940000" d="M232.3 176.3L220.1 175.4L229.9 177.7Z"/><path fill="#f00000" stroke="#b80000" d="M178.2 204.8L174.7 199.8L169.7 197.7Z"/><path fill="#f90000" stroke="#bf0000" d="M173.3 182.5L179.7 177.1L170.7 173.3Z"/><path fill="#ed0000" stroke="#b50000" d="M179.7 177.1L188.5 172.8L178.2 168.4Z"/><path fill="#8e0000" stroke="#6c0000" d="M303.0 203.1L311.3 195.0L304.3 198.0Z"/><path fill="#ca0000" stroke="#9a0000" d="M229.9 177.7L241.4 177.9L232.3 176.3Z"/><path fill="#fb0000" stroke="#c00000" d="M169.4 187.4L168.5 192.9L174.6 194.9Z"/><path fill="#e00000" stroke="#ac0000" d="M276.2 175.8L281.3 170.0L268.1 173.8Z"/><path fill="#b70000" stroke="#8c0000" d="M305.1 177.3L299.8 171.0L295.8 178.7Z"/><path fill="#9b0000" stroke="#760000" d="M303.3 191.9L311.5 189.3L309.2 183.1Z"/><path fill="#940000" stroke="#710000" d="M293.1 209.8L289.1 212.8L299.8 206.8Z"/><path fill="#910000" stroke="#6f0000" d="M293.1 209.8L299.8 206.8L303.0 203.1Z"/><path fill="#f80000" stroke="#be0000" d="M168.5 192.9L174.7 199.8L174.6 194.9Z"/><path fill="#c70000" stroke="#990000" d="M295.8 178.7L299.8 171.0L289.3 173.1Z"/><path fill="#d70000" stroke="#a40000" d="M289.3 173.1L281.3 170.0L276.2 175.8Z"/><path fill="#e50000" stroke="#af0000" d="M188.5 210.9L178.2 204.8L183.8 209.4Z"/><path fill="#a80000" stroke="#800000" d="M300.3 185.4L309.2 183.1L305.1 177.3Z"/><path fill="#980000" stroke="#740000" d="M304.3 198.0L311.5 189.3L303.3 191.9Z"/><path fill="#fc0000" stroke="#c10000" d="M177.8 191.0L173.3 182.5L169.4 187.4Z"/><path fill="#dd0000" stroke="#a90000" d="M195.3 214.9L188.5 210.9L183.8 209.4Z"/><path fill="#d40000" stroke="#a20000" d="M200.4 177.1L198.8 171.1L188.5 172.8Z"/><path fill="#dc0000" stroke="#a80000" d="M261.9 178.3L268.1 173.8L254.4 176.7Z"/><path fill="#ef0000" stroke="#b70000" d="M183.6 206.0L174.7 199.8L178.2 204.8Z"/><path fill="#cf0000" stroke="#9f0000" d="M200.4 177.1L210.4 175.5L198.8 171.1Z"/><path fill="#c80000" stroke="#990000" d="M221.6 178.5L229.9 177.7L220.1 175.4Z"/><path fill="#fb0000" stroke="#c00000" d="M174.6 194.9L177.8 191.0L169.4 187.4Z"/><path fill="#c30000" stroke="#950000" d="M221.6 178.5L220.1 175.4L210.4 175.5Z"/><path fill="#b30000" stroke="#890000" d="M300.3 185.4L305.1 177.3L295.8 178.7Z"/><path fill="#a40000" stroke="#7d0000" d="M303.3 191.9L309.2 183.1L300.3 185.4Z"/><path fill="#f80000" stroke="#be0000" d="M183.2 186.0L179.7 177.1L173.3 182.5Z"/><path fill="#d40000" stroke="#a20000" d="M247.7 179.8L254.4 176.7L241.4 177.9Z"/><path fill="#9e0000" stroke="#790000" d="M281.2 215.2L275.8 217.6L289.1 212.8Z"/><path fill="#ed0000" stroke="#b50000" d="M191.0 180.9L188.5 172.8L179.7 177.1Z"/><path fill="#d90000" stroke="#a60000" d="M276.2 175.8L268.1 173.8L261.9 178.3Z"/><path fill="#950000" stroke="#720000" d="M295.0 205.5L303.0 203.1L304.3 198.0Z"/><path fill="#e90000" stroke="#b20000" d="M188.5 210.9L183.6 206.0L178.2 204.8Z"/><path fill="#f70000" stroke="#bd0000" d="M174.6 194.9L174.7 199.8L180.5 201.1Z"/><path fill="#9b0000" stroke="#760000" d="M281.2 215.2L289.1 212.8L293.1 209.8Z"/><path fill="#960000" stroke="#730000" d="M293.1 209.8L303.0 203.1L295.0 205.5Z"/><path fill="#cc0000" stroke="#9c0000" d="M234.9 180.1L241.4 177.9L229.9 177.7Z"/><path fill="#fa0000" stroke="#bf0000" d="M177.8 191.0L183.2 186.0L173.3 182.5Z"/><path fill="#f20000" stroke="#b90000" d="M183.6 206.0L180.5 201.1L174.7 199.8Z"/><path fill="#c60000" stroke="#980000" d="M295.8 178.7L289.3 173.1L283.7 180.4Z"/><path fill="#d50000" stroke="#a30000" d="M283.7 180.4L289.3 173.1L276.2 175.8Z"/><path fill="#e50000" stroke="#af0000" d="M191.0 180.9L200.4 177.1L188.5 172.8Z"/><path fill="#d50000" stroke="#a30000" d="M261.9 178.3L254.4 176.7L247.7 179.8Z"/><path fill="#dc0000" stroke="#a80000" d="M200.0 215.3L188.5 210.9L195.3 214.9Z"/><path fill="#f40000" stroke="#ba0000" d="M183.2 186.0L191.0 180.9L179.7 177.1Z"/><path fill="#9f0000" stroke="#790000" d="M295.2 200.0L304.3 198.0L303.3 191.9Z"/><path fill="#d60000" stroke="#a30000" d="M200.0 215.3L195.3 214.9L208.2 218.9Z"/><path fill="#c90000" stroke="#9a0000" d="M234.9 180.1L229.9 177.7L221.6 178.5Z"/><path fill="#cf0000" stroke="#9e0000" d="M247.7 179.8L241.4 177.9L234.9 180.1Z"/><path fill="#f90000" stroke="#be0000" d="M183.5 198.1L177.8 191.0L174.6 194.9Z"/><path fill="#f70000" stroke="#bd0000" d="M180.5 201.1L183.5 198.1L174.6 194.9Z"/><path fill="#a40000" stroke="#7d0000" d="M267.5 219.4L275.8 217.6L281.2 215.2Z"/><path fill="#d00000" stroke="#9f0000" d="M212.4 180.5L210.4 175.5L200.4 177.1Z"/><path fill="#b60000" stroke="#8b0000" d="M300.3 185.4L295.8 178.7L289.6 187.0Z"/><path fill="#9d0000" stroke="#780000" d="M295.0 205.5L304.3 198.0L295.2 200.0Z"/><path fill="#d00000" stroke="#9f0000" d="M212.4 180.5L221.6 178.5L210.4 175.5Z"/><path fill="#aa0000" stroke="#820000" d="M293.5 193.6L303.3 191.9L300.3 185.4Z"/><path fill="#e80000" stroke="#b10000" d="M193.6 210.4L183.6 206.0L188.5 210.9Z"/><path fill="#9f0000" stroke="#7a0000" d="M284.9 211.4L281.2 215.2L293.1 209.8Z"/><path fill="#9d0000" stroke="#780000" d="M284.9 211.4L293.1 209.8L295.0 205.5Z"/><path fill="#c20000" stroke="#940000" d="M289.6 187.0L295.8 178.7L283.7 180.4Z"/><path fill="#da0000" stroke="#a70000" d="M269.5 182.1L276.2 175.8L261.9 178.3Z"/><path fill="#f00000" stroke="#b80000" d="M189.1 205.0L180.5 201.1L183.6 206.0Z"/><path fill="#e30000" stroke="#ad0000" d="M193.6 210.4L188.5 210.9L200.0 215.3Z"/><path fill="#ac0000" stroke="#840000" d="M253.2 221.8L261.3 220.7L267.5 219.4Z"/><path fill="#f80000" stroke="#be0000" d="M188.2 194.0L183.2 186.0L177.8 191.0Z"/><path fill="#a70000" stroke="#800000" d="M295.2 200.0L303.3 191.9L293.5 193.6Z"/><path fill="#d10000" stroke="#a00000" d="M283.7 180.4L276.2 175.8L269.5 182.1Z"/><path fill="#b30000" stroke="#890000" d="M293.5 193.6L300.3 185.4L289.6 187.0Z"/><path fill="#f80000" stroke="#bd0000" d="M183.5 198.1L188.2 194.0L177.8 191.0Z"/><path fill="#e50000" stroke="#af0000" d="M203.2 184.1L200.4 177.1L191.0 180.9Z"/><path fill="#f40000" stroke="#ba0000" d="M189.1 205.0L183.5 198.1L180.5 201.1Z"/><path fill="#cd0000" stroke="#9d0000" d="M214.1 218.8L208.2 218.9L223.0 221.6Z"/><path fill="#d40000" stroke="#a20000" d="M214.1 218.8L200.0 215.3L208.2 218.9Z"/><path fill="#ed0000" stroke="#b50000" d="M189.1 205.0L183.6 206.0L193.6 210.4Z"/><path fill="#d20000" stroke="#a00000" d="M234.9 180.1L221.6 178.5L226.3 182.5Z"/><path fill="#f30000" stroke="#ba0000" d="M194.9 189.0L191.0 180.9L183.2 186.0Z"/><path fill="#d80000" stroke="#a50000" d="M254.6 183.3L261.9 178.3L247.7 179.8Z"/><path fill="#e00000" stroke="#ab0000" d="M203.2 184.1L212.4 180.5L200.4 177.1Z"/><path fill="#a90000" stroke="#810000" d="M272.5 216.1L267.5 219.4L281.2 215.2Z"/><path fill="#d10000" stroke="#a00000" d="M226.3 182.5L221.6 178.5L212.4 180.5Z"/><path fill="#a40000" stroke="#7d0000" d="M285.7 206.7L295.0 205.5L295.2 200.0Z"/><path fill="#a70000" stroke="#7f0000" d="M272.5 216.1L281.2 215.2L284.9 211.4Z"/><path fill="#a40000" stroke="#7d0000" d="M284.9 211.4L295.0 205.5L285.7 206.7Z"/><path fill="#d40000" stroke="#a20000" d="M240.7 183.7L247.7 179.8L234.9 180.1Z"/><path fill="#f50000" stroke="#bb0000" d="M188.2 194.0L194.9 189.0L183.2 186.0Z"/><path fill="#d50000" stroke="#a30000" d="M269.5 182.1L261.9 178.3L254.6 183.3Z"/><path fill="#ee0000" stroke="#b60000" d="M194.9 189.0L203.2 184.1L191.0 180.9Z"/><path fill="#c50000" stroke="#960000" d="M229.7 220.7L223.0 221.6L238.6 222.6Z"/><path fill="#c40000" stroke="#960000" d="M289.6 187.0L283.7 180.4L276.3 188.3Z"/><path fill="#b30000" stroke="#890000" d="M258.9 219.3L253.2 221.8L267.5 219.4Z"/><path fill="#e10000" stroke="#ac0000" d="M206.3 214.2L193.6 210.4L200.0 215.3Z"/><path fill="#f30000" stroke="#ba0000" d="M193.5 201.8L183.5 198.1L189.1 205.0Z"/><path fill="#ad0000" stroke="#850000" d="M285.1 200.9L295.2 200.0L293.5 193.6Z"/><path fill="#f50000" stroke="#bb0000" d="M193.5 201.8L188.2 194.0L183.5 198.1Z"/><path fill="#ce0000" stroke="#9e0000" d="M276.3 188.3L283.7 180.4L269.5 182.1Z"/><path fill="#d20000" stroke="#a10000" d="M240.7 183.7L234.9 180.1L226.3 182.5Z"/><path fill="#bc0000" stroke="#900000" d="M245.1 220.8L238.6 222.6L253.2 221.8Z"/><path fill="#cc0000" stroke="#9c0000" d="M229.7 220.7L214.1 218.8L223.0 221.6Z"/><path fill="#d40000" stroke="#a20000" d="M254.6 183.3L247.7 179.8L240.7 183.7Z"/><path fill="#db0000" stroke="#a70000" d="M206.3 214.2L200.0 215.3L214.1 218.8Z"/><path fill="#b80000" stroke="#8d0000" d="M293.5 193.6L289.6 187.0L281.6 195.1Z"/><path fill="#b00000" stroke="#860000" d="M258.9 219.3L267.5 219.4L272.5 216.1Z"/><path fill="#eb0000" stroke="#b40000" d="M200.2 208.7L189.1 205.0L193.6 210.4Z"/><path fill="#ac0000" stroke="#830000" d="M285.7 206.7L295.2 200.0L285.1 200.9Z"/><path fill="#ab0000" stroke="#830000" d="M276.1 211.8L272.5 216.1L284.9 211.4Z"/><path fill="#aa0000" stroke="#820000" d="M276.1 211.8L284.9 211.4L285.7 206.7Z"/><path fill="#e00000" stroke="#ab0000" d="M217.0 186.5L212.4 180.5L203.2 184.1Z"/><path fill="#dc0000" stroke="#a80000" d="M226.3 182.5L212.4 180.5L217.0 186.5Z"/><path fill="#b90000" stroke="#8d0000" d="M258.9 219.3L245.1 220.8L253.2 221.8Z"/><path fill="#c20000" stroke="#950000" d="M245.1 220.8L229.7 220.7L238.6 222.6Z"/><path fill="#ef0000" stroke="#b70000" d="M200.2 208.7L193.5 201.8L189.1 205.0Z"/><path fill="#b50000" stroke="#8b0000" d="M285.1 200.9L293.5 193.6L281.6 195.1Z"/><path fill="#e60000" stroke="#b00000" d="M200.2 208.7L193.6 210.4L206.3 214.2Z"/><path fill="#c00000" stroke="#930000" d="M281.6 195.1L289.6 187.0L276.3 188.3Z"/><path fill="#f30000" stroke="#ba0000" d="M199.7 197.3L194.9 189.0L188.2 194.0Z"/><path fill="#f30000" stroke="#ba0000" d="M199.7 197.3L188.2 194.0L193.5 201.8Z"/><path fill="#ed0000" stroke="#b50000" d="M207.8 191.8L203.2 184.1L194.9 189.0Z"/><path fill="#d60000" stroke="#a30000" d="M261.5 189.0L269.5 182.1L254.6 183.3Z"/><path fill="#cf0000" stroke="#9e0000" d="M276.3 188.3L269.5 182.1L261.5 189.0Z"/><path fill="#b40000" stroke="#8a0000" d="M263.7 215.6L258.9 219.3L272.5 216.1Z"/><path fill="#d20000" stroke="#a00000" d="M221.0 216.8L214.1 218.8L229.7 220.7Z"/><path fill="#d90000" stroke="#a60000" d="M221.0 216.8L206.3 214.2L214.1 218.8Z"/><path fill="#b20000" stroke="#880000" d="M276.2 206.9L285.7 206.7L285.1 200.9Z"/><path fill="#db0000" stroke="#a70000" d="M240.7 183.7L226.3 182.5L232.1 188.2Z"/><path fill="#b30000" stroke="#890000" d="M263.7 215.6L272.5 216.1L276.1 211.8Z"/><path fill="#b10000" stroke="#880000" d="M276.1 211.8L285.7 206.7L276.2 206.9Z"/><path fill="#e80000" stroke="#b10000" d="M217.0 186.5L203.2 184.1L207.8 191.8Z"/><path fill="#ef0000" stroke="#b70000" d="M207.8 191.8L194.9 189.0L199.7 197.3Z"/><path fill="#d90000" stroke="#a60000" d="M247.0 189.2L254.6 183.3L240.7 183.7Z"/><path fill="#dc0000" stroke="#a80000" d="M232.1 188.2L226.3 182.5L217.0 186.5Z"/><path fill="#ed0000" stroke="#b50000" d="M206.2 205.2L193.5 201.8L200.2 208.7Z"/><path fill="#be0000" stroke="#910000" d="M251.1 217.3L245.1 220.8L258.9 219.3Z"/><path fill="#c80000" stroke="#990000" d="M236.5 217.8L229.7 220.7L245.1 220.8Z"/><path fill="#bb0000" stroke="#8f0000" d="M285.1 200.9L281.6 195.1L272.6 202.1Z"/><path fill="#e40000" stroke="#af0000" d="M213.5 211.6L200.2 208.7L206.3 214.2Z"/><path fill="#ef0000" stroke="#b70000" d="M206.2 205.2L199.7 197.3L193.5 201.8Z"/><path fill="#c40000" stroke="#960000" d="M281.6 195.1L276.3 188.3L267.7 195.9Z"/><path fill="#d50000" stroke="#a30000" d="M261.5 189.0L254.6 183.3L247.0 189.2Z"/><path fill="#bc0000" stroke="#900000" d="M263.7 215.6L251.1 217.3L258.9 219.3Z"/><path fill="#b90000" stroke="#8e0000" d="M276.2 206.9L285.1 200.9L272.6 202.1Z"/><path fill="#b60000" stroke="#8c0000" d="M267.5 211.4L263.7 215.6L276.1 211.8Z"/><path fill="#b60000" stroke="#8b0000" d="M267.5 211.4L276.1 211.8L276.2 206.9Z"/><path fill="#d90000" stroke="#a60000" d="M247.0 189.2L240.7 183.7L232.1 188.2Z"/><path fill="#d00000" stroke="#9f0000" d="M236.5 217.8L221.0 216.8L229.7 220.7Z"/><path fill="#de0000" stroke="#aa0000" d="M213.5 211.6L206.3 214.2L221.0 216.8Z"/><path fill="#cc0000" stroke="#9c0000" d="M267.7 195.9L276.3 188.3L261.5 189.0Z"/><path fill="#e80000" stroke="#b10000" d="M213.5 211.6L206.2 205.2L200.2 208.7Z"/><path fill="#c60000" stroke="#970000" d="M251.1 217.3L236.5 217.8L245.1 220.8Z"/><path fill="#e60000" stroke="#b00000" d="M222.9 194.0L217.0 186.5L207.8 191.8Z"/><path fill="#c20000" stroke="#950000" d="M272.6 202.1L281.6 195.1L267.7 195.9Z"/><path fill="#ec0000" stroke="#b50000" d="M213.9 200.1L207.8 191.8L199.7 197.3Z"/><path fill="#e20000" stroke="#ad0000" d="M232.1 188.2L217.0 186.5L222.9 194.0Z"/><path fill="#ec0000" stroke="#b50000" d="M213.9 200.1L199.7 197.3L206.2 205.2Z"/><path fill="#be0000" stroke="#910000" d="M267.5 211.4L256.1 213.0L263.7 215.6Z"/><path fill="#c00000" stroke="#930000" d="M256.1 213.0L251.1 217.3L263.7 215.6Z"/><path fill="#bd0000" stroke="#910000" d="M267.5 211.4L276.2 206.9L263.8 207.6Z"/><path fill="#bf0000" stroke="#920000" d="M276.2 206.9L272.6 202.1L263.8 207.6Z"/><path fill="#d60000" stroke="#a30000" d="M253.3 195.8L261.5 189.0L247.0 189.2Z"/><path fill="#dc0000" stroke="#a80000" d="M228.2 213.4L213.5 211.6L221.0 216.8Z"/><path fill="#d40000" stroke="#a20000" d="M228.2 213.4L221.0 216.8L236.5 217.8Z"/><path fill="#e80000" stroke="#b20000" d="M222.9 194.0L207.8 191.8L213.9 200.1Z"/><path fill="#cf0000" stroke="#9f0000" d="M267.7 195.9L261.5 189.0L253.3 195.8Z"/><path fill="#dd0000" stroke="#a90000" d="M247.0 189.2L232.1 188.2L238.6 195.4Z"/><path fill="#e50000" stroke="#af0000" d="M221.0 207.6L206.2 205.2L213.5 211.6Z"/><path fill="#ca0000" stroke="#9b0000" d="M242.8 213.8L236.5 217.8L251.1 217.3Z"/><path fill="#c70000" stroke="#980000" d="M272.6 202.1L267.7 195.9L259.1 202.3Z"/><path fill="#c20000" stroke="#950000" d="M267.5 211.4L263.8 207.6L256.1 213.0Z"/><path fill="#e00000" stroke="#ab0000" d="M238.6 195.4L232.1 188.2L222.9 194.0Z"/><path fill="#e70000" stroke="#b10000" d="M221.0 207.6L213.9 200.1L206.2 205.2Z"/><path fill="#c80000" stroke="#990000" d="M256.1 213.0L242.8 213.8L251.1 217.3Z"/><path fill="#c60000" stroke="#970000" d="M263.8 207.6L272.6 202.1L259.1 202.3Z"/><path fill="#d20000" stroke="#a10000" d="M242.8 213.8L228.2 213.4L236.5 217.8Z"/><path fill="#df0000" stroke="#ab0000" d="M228.2 213.4L221.0 207.6L213.5 211.6Z"/><path fill="#d80000" stroke="#a50000" d="M253.3 195.8L247.0 189.2L238.6 195.4Z"/><path fill="#ce0000" stroke="#9e0000" d="M259.1 202.3L267.7 195.9L253.3 195.8Z"/><path fill="#e50000" stroke="#af0000" d="M229.6 201.9L222.9 194.0L213.9 200.1Z"/><path fill="#c70000" stroke="#980000" d="M263.8 207.6L251.1 208.7L256.1 213.0Z"/><path fill="#cc0000" stroke="#9c0000" d="M256.1 213.0L251.1 208.7L242.8 213.8Z"/><path fill="#e40000" stroke="#ae0000" d="M229.6 201.9L213.9 200.1L221.0 207.6Z"/><path fill="#e00000" stroke="#ac0000" d="M238.6 195.4L222.9 194.0L229.6 201.9Z"/><path fill="#cb0000" stroke="#9b0000" d="M263.8 207.6L259.1 202.3L251.1 208.7Z"/><path fill="#d60000" stroke="#a30000" d="M242.8 213.8L236.4 208.8L228.2 213.4Z"/><path fill="#dc0000" stroke="#a80000" d="M236.4 208.8L221.0 207.6L228.2 213.4Z"/><path fill="#d80000" stroke="#a50000" d="M253.3 195.8L238.6 195.4L245.1 202.6Z"/><path fill="#d20000" stroke="#a10000" d="M259.1 202.3L253.3 195.8L245.1 202.6Z"/><path fill="#d20000" stroke="#a00000" d="M251.1 208.7L236.4 208.8L242.8 213.8Z"/><path fill="#d00000" stroke="#9f0000" d="M259.1 202.3L245.1 202.6L251.1 208.7Z"/><path fill="#de0000" stroke="#aa0000" d="M236.4 208.8L229.6 201.9L221.0 207.6Z"/><path fill="#dc0000" stroke="#a80000" d="M245.1 202.6L238.6 195.4L229.6 201.9Z"/><path fill="#d50000" stroke="#a30000" d="M251.1 208.7L245.1 202.6L236.4 208.8Z"/><path fill="#da0000" stroke="#a70000" d="M245.1 202.6L229.6 201.9L236.4 208.8Z"/></g></g>
<path d="M204 85.2H229.5V80.3L244.8 88.6L229.5 97V92H204Z" fill="#000"/>
<filter id="cb" x="-2%" y="-2%" width="104%" height="104%"><feGaussianBlur stdDeviation="0.3"/></filter><g filter="url(#cb)">
<path d="M57.00 190.68 65.95 192.27 75.66 194.23 87.11 196.72 91.28 197.97 93.27 198.41 94.98 198.58 96.98 198.51 100.27 198.26 102.35 197.93 103.44 197.23 105.64 194.99 108.02 193.82 109.48 192.80 110.60 191.51 111.39 189.94 112.06 187.41 112.50 183.65 112.74 178.72 112.89 169.69 113.10 180.31 113.50 186.34 113.85 188.63 114.26 190.33 114.85 191.84 115.56 193.00 116.64 194.09 117.97 194.85 118.76 195.12 119.43 195.20 119.80 195.12 120.03 194.86 120.22 194.01 120.31 192.33 120.39 182.71 120.50 193.27 120.65 194.88 121.01 195.86 121.51 196.47 122.20 197.05 122.51 197.14 122.67 196.88 122.78 195.42 122.82 188.92 122.90 196.36 123.03 197.38 123.35 198.08 124.09 198.87 125.09 199.68 126.04 200.24 126.27 200.28 126.41 200.17 126.52 199.76 126.58 198.66 126.63 192.48 126.69 199.20 126.79 200.23 126.99 200.78 127.72 201.51 129.34 202.64 130.34 203.19 130.61 203.25 130.77 203.17 130.89 202.79 130.96 201.83 131.00 196.09 131.05 201.87 131.22 203.39 131.55 203.84 132.30 204.34 134.01 205.24 134.76 205.44 135.01 205.28 135.17 204.88 135.37 202.94 135.50 189.56 135.62 203.12 135.81 205.35 136.21 206.73 136.59 207.36 137.03 207.81 137.28 207.83 137.42 207.46 137.51 205.88 137.56 198.94 137.64 206.91 137.75 207.99 138.00 208.65 138.50 209.23 139.25 209.80 139.68 209.96 139.89 209.77 140.01 208.48 140.06 202.56 140.12 208.98 140.20 209.85 140.38 210.37 140.84 210.86 141.71 211.43 142.18 211.60 142.40 211.44 142.51 210.49 142.56 205.44 142.60 210.54 142.67 211.39 142.79 211.82 143.18 212.24 144.13 212.79 144.90 213.11 145.20 213.03 145.32 212.21 145.37 207.73 145.40 211.73 145.50 213.07 145.63 213.35 145.87 213.58 147.00 214.15 157.66 218.41 159.83 219.19 160.78 219.42 161.58 219.44 162.12 219.27 162.53 218.88 162.87 218.13 163.08 217.14 163.35 213.34 163.48 205.05 163.51 190.70 163.56 207.34 163.70 214.37 164.04 218.51 164.32 219.89 164.74 221.04 165.74 222.62 167.32 224.23 169.74 226.12 172.53 227.91 175.03 229.21 177.40 230.14 179.69 230.73 181.90 230.97" fill="none" stroke="#8a9cea" stroke-width="0.6"/>
<path d="M57.00 190.67 76.32 194.11 87.36 195.62 92.48 196.41 94.77 196.54 97.15 196.40 99.94 196.01 102.27 195.46 103.35 194.81 105.48 193.04 107.06 192.13 108.02 191.39 109.10 190.08 109.89 188.40 110.52 185.88 110.93 182.28 111.18 177.26 111.33 169.23 111.56 179.44 111.97 185.20 112.35 187.57 112.81 189.36 113.43 190.92 114.18 192.11 115.39 193.29 116.89 194.11 117.68 194.35 118.35 194.42 118.76 194.31 119.04 193.98 119.25 193.14 119.36 191.50 119.45 181.00 119.56 191.98 119.72 193.71 120.05 194.68 120.51 195.22 121.22 195.79 121.56 195.95 121.73 195.80 121.84 194.51 121.89 189.19 121.93 194.79 122.09 196.26 122.55 196.98 123.80 198.19 124.76 198.90 125.04 199.00 125.23 198.96 125.40 198.55 125.48 197.56 125.54 190.28 125.60 197.64 125.69 198.84 125.91 199.51 126.43 200.08 127.47 200.85 128.05 201.13 128.32 201.01 128.46 199.78 128.51 194.11 128.55 199.83 128.61 200.85 128.77 201.44 129.07 201.81 129.55 202.13 129.82 202.15 129.94 201.92 130.04 200.42 130.07 195.86 130.11 201.10 130.29 202.41 130.72 202.92 131.72 203.53 133.05 204.13 133.76 204.23 134.05 204.05 134.26 203.62 134.48 201.67 134.63 187.66 134.75 201.50 134.94 203.84 135.34 205.29 135.71 205.95 136.12 206.43 136.36 206.49 136.48 206.20 136.59 204.20 136.62 198.12 136.70 205.76 136.83 206.85 137.09 207.49 137.55 208.05 138.17 208.53 138.48 208.62 138.65 208.41 138.76 207.15 138.81 201.20 138.87 207.67 138.96 208.61 139.14 209.11 139.59 209.61 140.42 210.21 140.93 210.44 141.15 210.31 141.28 208.87 141.31 204.59 141.35 209.49 141.42 210.29 141.54 210.70 141.96 211.14 142.88 211.71 143.63 212.05 143.95 212.00 144.08 210.84 144.12 206.90 144.15 210.78 144.26 212.08 144.65 212.58 145.92 213.24 146.62 213.43 146.76 213.35 146.83 213.14 146.93 208.66 146.99 212.95 147.10 213.49 147.38 213.78 157.20 217.83 159.79 218.80 160.74 219.05 161.53 219.10 162.12 218.95 162.53 218.59 162.87 217.89 163.08 216.93 163.35 213.23 163.48 205.02 163.51 190.69 163.56 207.30 163.68 213.86 164.01 218.08 164.28 219.48 164.70 220.67 165.12 221.44 165.70 222.26 167.32 223.93 169.86 225.96 172.70 227.84 175.15 229.16 177.53 230.13 179.78 230.73 181.90 230.97" fill="none" stroke="#de4656" stroke-width="0.65" stroke-dasharray="1.6 0.6"/>
</g>
<path d="M66.4 231.4v-1M66.4 148.4v1M71.9 231.4v-1M71.9 148.4v1M75.8 231.4v-1M75.8 148.4v1M78.83 231.4v-1M78.83 148.4v1M81.3 231.4v-1M81.3 148.4v1M83.39 231.4v-1M83.39 148.4v1M85.2 231.4v-1M85.2 148.4v1M86.8 231.4v-1M86.8 148.4v1M88.22 231.4v-2M88.22 148.4v2M97.62 231.4v-1M97.62 148.4v1M103.12 231.4v-1M103.12 148.4v1M107.02 231.4v-1M107.02 148.4v1M110.05 231.4v-1M110.05 148.4v1M112.52 231.4v-1M112.52 148.4v1M114.61 231.4v-1M114.61 148.4v1M116.42 231.4v-1M116.42 148.4v1M118.02 231.4v-1M118.02 148.4v1M119.45 231.4v-2M119.45 148.4v2M128.85 231.4v-1M128.85 148.4v1M134.35 231.4v-1M134.35 148.4v1M138.25 231.4v-1M138.25 148.4v1M141.28 231.4v-1M141.28 148.4v1M143.75 231.4v-1M143.75 148.4v1M145.84 231.4v-1M145.84 148.4v1M147.65 231.4v-1M147.65 148.4v1M149.25 231.4v-1M149.25 148.4v1M150.68 231.4v-2M150.68 148.4v2M160.07 231.4v-1M160.07 148.4v1M165.57 231.4v-1M165.57 148.4v1M169.47 231.4v-1M169.47 148.4v1M172.5 231.4v-1M172.5 148.4v1M174.97 231.4v-1M174.97 148.4v1M177.06 231.4v-1M177.06 148.4v1M178.87 231.4v-1M178.87 148.4v1M180.47 231.4v-1M180.47 148.4v1M57 227.24h1M181.9 227.24h-1M57 224.8h1M181.9 224.8h-1M57 223.07h1M181.9 223.07h-1M57 221.73h1M181.9 221.73h-1M57 220.64h1M181.9 220.64h-1M57 219.71h1M181.9 219.71h-1M57 218.91h1M181.9 218.91h-1M57 218.2h1M181.9 218.2h-1M57 217.57h2M181.9 217.57h-2M57 213.4h1M181.9 213.4h-1M57 210.97h1M181.9 210.97h-1M57 209.24h1M181.9 209.24h-1M57 207.9h1M181.9 207.9h-1M57 206.8h1M181.9 206.8h-1M57 205.88h1M181.9 205.88h-1M57 205.07h1M181.9 205.07h-1M57 204.37h1M181.9 204.37h-1M57 203.73h2M181.9 203.73h-2M57 199.57h1M181.9 199.57h-1M57 197.13h1M181.9 197.13h-1M57 195.4h1M181.9 195.4h-1M57 194.06h1M181.9 194.06h-1M57 192.97h1M181.9 192.97h-1M57 192.04h1M181.9 192.04h-1M57 191.24h1M181.9 191.24h-1M57 190.53h1M181.9 190.53h-1M57 189.9h2M181.9 189.9h-2M57 185.74h1M181.9 185.74h-1M57 183.3h1M181.9 183.3h-1M57 181.57h1M181.9 181.57h-1M57 180.23h1M181.9 180.23h-1M57 179.14h1M181.9 179.14h-1M57 178.21h1M181.9 178.21h-1M57 177.41h1M181.9 177.41h-1M57 176.7h1M181.9 176.7h-1M57 176.07h2M181.9 176.07h-2M57 171.9h1M181.9 171.9h-1M57 169.47h1M181.9 169.47h-1M57 167.74h1M181.9 167.74h-1M57 166.4h1M181.9 166.4h-1M57 165.3h1M181.9 165.3h-1M57 164.38h1M181.9 164.38h-1M57 163.57h1M181.9 163.57h-1M57 162.87h1M181.9 162.87h-1M57 162.23h2M181.9 162.23h-2M57 158.07h1M181.9 158.07h-1M57 155.63h1M181.9 155.63h-1M57 153.9h1M181.9 153.9h-1M57 152.56h1M181.9 152.56h-1M57 151.47h1M181.9 151.47h-1M57 150.54h1M181.9 150.54h-1M57 149.74h1M181.9 149.74h-1M57 149.03h1M181.9 149.03h-1" fill="none" stroke="#333" stroke-width="0.45"/>
<rect x="57" y="148.4" width="124.9" height="83" fill="none" stroke="#222" stroke-width="0.6"/>
<text x="54.1" y="150.5" style="font-family:'DejaVu Serif',serif;font-size:5.2px" text-anchor="end">10<tspan dy="-2.2" style="font-size:3.9px">2</tspan></text>
<text x="54.1" y="164.33" style="font-family:'DejaVu Serif',serif;font-size:5.2px" text-anchor="end">10<tspan dy="-2.2" style="font-size:3.9px">1</tspan></text>
<text x="54.1" y="178.17" style="font-family:'DejaVu Serif',serif;font-size:5.2px" text-anchor="end">10<tspan dy="-2.2" style="font-size:3.9px">0</tspan></text>
<text x="54.1" y="192" style="font-family:'DejaVu Serif',serif;font-size:5.2px" text-anchor="end">10<tspan dy="-2.2" style="font-size:3.9px">-1</tspan></text>
<text x="54.1" y="205.83" style="font-family:'DejaVu Serif',serif;font-size:5.2px" text-anchor="end">10<tspan dy="-2.2" style="font-size:3.9px">-2</tspan></text>
<text x="54.1" y="219.67" style="font-family:'DejaVu Serif',serif;font-size:5.2px" text-anchor="end">10<tspan dy="-2.2" style="font-size:3.9px">-3</tspan></text>
<text x="54.1" y="233.5" style="font-family:'DejaVu Serif',serif;font-size:5.2px" text-anchor="end">10<tspan dy="-2.2" style="font-size:3.9px">-4</tspan></text>
<text x="57.8" y="239.6" style="font-family:'DejaVu Serif',serif;font-size:5.2px" text-anchor="middle">1</text>
<text x="89.02" y="239.6" style="font-family:'DejaVu Serif',serif;font-size:5.2px" text-anchor="middle">10</text>
<text x="120.25" y="239.6" style="font-family:'DejaVu Serif',serif;font-size:5.2px" text-anchor="middle">100</text>
<text x="151.48" y="239.6" style="font-family:'DejaVu Serif',serif;font-size:5.2px" text-anchor="middle">1000</text>
<text x="182.7" y="239.6" style="font-family:'DejaVu Serif',serif;font-size:5.2px" text-anchor="middle">10000</text>
<text x="119.45" y="248.1" style="font-family:'DejaVu Sans',sans-serif;font-size:5.0px" text-anchor="middle">Frequency <tspan font-style="italic">f</tspan>/kHz</text>
<text x="38.1" y="189.6" transform="rotate(-90 38.1 189.6)" style="font-family:'DejaVu Sans',sans-serif;font-size:5.0px" text-anchor="middle"><tspan font-style="italic">R</tspan><tspan dy="1" style="font-size:3.6px">b</tspan><tspan dy="-1">/nm</tspan></text>
<text x="82.1" y="223.3" style="font-family:'DejaVu Serif',serif;font-size:5.0px" text-anchor="end"><tspan font-style="italic">k</tspan><tspan dy="1" style="font-size:3.5px">b</tspan><tspan dy="-1">=48.6</tspan></text>
<path d="M85.2 220.7H100.4" stroke="#8a9cea" stroke-width="0.6"/>
<text x="82.1" y="229" style="font-family:'DejaVu Serif',serif;font-size:5.0px" text-anchor="end"><tspan font-style="italic">k</tspan><tspan dy="1" style="font-size:3.5px">b</tspan><tspan dy="-1">=38.9</tspan></text>
<path d="M85.2 226.4H100.4" stroke="#de4656" stroke-width="0.65" stroke-dasharray="1.6 0.6"/>
<path d="M112.5 158.3V165" stroke="#000" stroke-width="0.5"/>
<path d="M112.5 167.8L111.3 165L113.7 165Z" fill="#000"/>
<text x="112" y="156.7" style="font-family:'DejaVu Sans',sans-serif;font-size:5.4px" text-anchor="middle"><tspan font-style="italic">P</tspan><tspan dy="0.4" style="font-size:3.9px">b1</tspan></text>
<g filter="url(#cb)">
<path d="M279.60 190.93 285.35 191.92 292.43 193.33 299.30 195.30 301.96 195.92 303.80 196.17 305.50 196.25 306.59 195.87 307.05 195.88 311.50 197.50 314.13 198.14 316.17 198.30 319.96 198.32 322.91 198.17 324.91 197.90 325.45 197.61 325.99 197.16 327.70 195.17 328.29 194.65 331.03 193.56 332.70 192.53 333.78 191.37 334.57 189.89 334.95 188.77 335.28 187.30 335.73 183.56 335.96 178.64 336.12 169.62 336.32 180.23 336.71 186.11 337.03 188.31 337.49 190.22 338.07 191.73 338.78 192.89 339.78 193.92 341.03 194.66 342.15 194.92 342.46 194.82 342.65 194.54 342.82 193.69 342.91 192.06 342.99 182.42 343.10 193.00 343.25 194.63 343.61 195.61 344.11 196.23 344.80 196.80 345.11 196.88 345.27 196.62 345.38 195.14 345.42 188.62 345.50 196.08 345.63 197.11 345.94 197.79 346.69 198.58 347.73 199.41 348.65 199.94 348.87 199.97 349.01 199.87 349.12 199.45 349.18 198.36 349.23 192.18 349.29 198.90 349.39 199.92 349.59 200.47 350.32 201.20 351.94 202.34 352.94 202.89 353.21 202.95 353.37 202.87 353.49 202.49 353.56 201.53 353.60 195.79 353.65 201.57 353.82 203.09 354.15 203.54 354.90 204.04 356.61 204.94 357.36 205.14 357.61 204.98 357.77 204.58 357.97 202.64 358.10 189.26 358.22 202.82 358.41 205.05 358.81 206.43 359.19 207.06 359.63 207.51 359.88 207.53 360.02 207.16 360.11 205.58 360.16 198.64 360.24 206.61 360.35 207.71 360.60 208.36 361.10 208.93 361.85 209.50 362.28 209.66 362.49 209.47 362.61 208.18 362.66 202.26 362.72 208.68 362.80 209.55 362.99 210.09 363.44 210.56 364.31 211.13 364.78 211.30 365.00 211.14 365.11 210.19 365.16 205.14 365.20 210.24 365.27 211.09 365.39 211.53 365.81 211.96 366.73 212.50 367.50 212.81 367.80 212.73 367.92 211.91 367.97 207.43 368.00 211.43 368.11 212.80 368.25 213.08 368.50 213.30 369.72 213.90 382.93 219.18 384.18 219.50 385.13 219.61 385.72 219.50 386.22 219.13 386.51 218.50 386.73 217.40 387.01 213.31 387.13 205.77 387.17 190.40 387.22 207.06 387.36 214.34 387.70 218.63 387.97 219.97 388.38 221.22 389.26 222.72 390.67 224.26 392.80 225.98 395.34 227.63 397.75 228.90 400.09 229.82 402.33 230.40 404.50 230.64" fill="none" stroke="#8a9cea" stroke-width="0.6"/>
<path d="M279.60 190.93 285.35 191.92 292.43 193.33 299.30 195.30 301.96 195.92 303.80 196.17 305.50 196.25 306.59 195.87 307.05 195.88 311.50 197.50 314.13 198.14 316.17 198.30 319.96 198.32 322.91 198.17 324.91 197.90 325.45 197.61 325.99 197.16 327.70 195.17 328.29 194.65 331.03 193.56 332.70 192.53 333.78 191.37 334.57 189.89 334.95 188.77 335.28 187.30 335.73 183.56 335.96 178.64 336.12 169.62 336.32 180.23 336.71 186.11 337.03 188.31 337.49 190.22 338.07 191.73 338.78 192.89 339.78 193.92 341.03 194.66 342.15 194.92 342.46 194.82 342.65 194.54 342.82 193.69 342.91 192.06 342.99 182.42 343.10 193.00 343.25 194.63 343.61 195.61 344.11 196.23 344.80 196.80 345.11 196.88 345.27 196.62 345.38 195.14 345.42 188.62 345.50 196.08 345.63 197.11 345.94 197.79 346.69 198.58 347.73 199.41 348.65 199.94 348.87 199.97 349.01 199.87 349.12 199.45 349.18 198.36 349.23 192.18 349.29 198.90 349.39 199.92 349.59 200.47 350.32 201.20 351.94 202.34 352.94 202.89 353.21 202.95 353.37 202.87 353.49 202.49 353.56 201.53 353.60 195.79 353.65 201.57 353.82 203.09 354.15 203.54 354.90 204.04 356.61 204.94 357.36 205.14 357.61 204.98 357.77 204.58 357.97 202.64 358.10 189.26 358.22 202.82 358.41 205.05 358.81 206.43 359.19 207.06 359.63 207.51 359.88 207.53 360.02 207.16 360.11 205.58 360.16 198.64 360.24 206.61 360.35 207.69 360.60 208.35 361.10 208.93 361.85 209.49 362.28 209.66 362.49 209.47 362.61 208.18 362.66 202.26 362.72 208.68 362.80 209.55 362.98 210.07 363.44 210.56 364.31 211.13 364.78 211.30 365.00 211.14 365.11 210.19 365.16 205.14 365.20 210.24 365.27 211.09 365.39 211.52 365.78 211.94 366.73 212.49 367.50 212.81 367.80 212.72 367.92 211.91 367.97 207.43 368.00 211.43 368.09 212.73 368.22 213.04 368.43 213.26 369.52 213.81 379.51 217.79 381.72 218.57 382.72 218.81 383.38 218.82 383.93 218.65 384.34 218.25 384.63 217.61 384.88 216.51 385.14 212.89 385.26 205.74 385.30 190.39 385.34 206.97 385.50 214.19 385.66 216.41 385.87 217.97 386.22 219.35 386.72 220.64 387.09 221.28 387.76 222.11 389.63 223.88 392.34 225.92 395.21 227.72 397.67 228.97 400.04 229.89 402.33 230.46 404.50 230.68" fill="none" stroke="#de4656" stroke-width="0.65" stroke-dasharray="1.6 0.6"/>
</g>
<path d="M289 231.1v-1M289 148.1v1M294.5 231.1v-1M294.5 148.1v1M298.4 231.1v-1M298.4 148.1v1M301.43 231.1v-1M301.43 148.1v1M303.9 231.1v-1M303.9 148.1v1M305.99 231.1v-1M305.99 148.1v1M307.8 231.1v-1M307.8 148.1v1M309.4 231.1v-1M309.4 148.1v1M310.83 231.1v-2M310.83 148.1v2M320.22 231.1v-1M320.22 148.1v1M325.72 231.1v-1M325.72 148.1v1M329.62 231.1v-1M329.62 148.1v1M332.65 231.1v-1M332.65 148.1v1M335.12 231.1v-1M335.12 148.1v1M337.21 231.1v-1M337.21 148.1v1M339.02 231.1v-1M339.02 148.1v1M340.62 231.1v-1M340.62 148.1v1M342.05 231.1v-2M342.05 148.1v2M351.45 231.1v-1M351.45 148.1v1M356.95 231.1v-1M356.95 148.1v1M360.85 231.1v-1M360.85 148.1v1M363.88 231.1v-1M363.88 148.1v1M366.35 231.1v-1M366.35 148.1v1M368.44 231.1v-1M368.44 148.1v1M370.25 231.1v-1M370.25 148.1v1M371.85 231.1v-1M371.85 148.1v1M373.28 231.1v-2M373.28 148.1v2M382.67 231.1v-1M382.67 148.1v1M388.17 231.1v-1M388.17 148.1v1M392.07 231.1v-1M392.07 148.1v1M395.1 231.1v-1M395.1 148.1v1M397.57 231.1v-1M397.57 148.1v1M399.66 231.1v-1M399.66 148.1v1M401.47 231.1v-1M401.47 148.1v1M403.07 231.1v-1M403.07 148.1v1M279.6 226.94h1M404.5 226.94h-1M279.6 224.5h1M404.5 224.5h-1M279.6 222.77h1M404.5 222.77h-1M279.6 221.43h1M404.5 221.43h-1M279.6 220.34h1M404.5 220.34h-1M279.6 219.41h1M404.5 219.41h-1M279.6 218.61h1M404.5 218.61h-1M279.6 217.9h1M404.5 217.9h-1M279.6 217.27h2M404.5 217.27h-2M279.6 213.1h1M404.5 213.1h-1M279.6 210.67h1M404.5 210.67h-1M279.6 208.94h1M404.5 208.94h-1M279.6 207.6h1M404.5 207.6h-1M279.6 206.5h1M404.5 206.5h-1M279.6 205.58h1M404.5 205.58h-1M279.6 204.77h1M404.5 204.77h-1M279.6 204.07h1M404.5 204.07h-1M279.6 203.43h2M404.5 203.43h-2M279.6 199.27h1M404.5 199.27h-1M279.6 196.83h1M404.5 196.83h-1M279.6 195.1h1M404.5 195.1h-1M279.6 193.76h1M404.5 193.76h-1M279.6 192.67h1M404.5 192.67h-1M279.6 191.74h1M404.5 191.74h-1M279.6 190.94h1M404.5 190.94h-1M279.6 190.23h1M404.5 190.23h-1M279.6 189.6h2M404.5 189.6h-2M279.6 185.44h1M404.5 185.44h-1M279.6 183h1M404.5 183h-1M279.6 181.27h1M404.5 181.27h-1M279.6 179.93h1M404.5 179.93h-1M279.6 178.84h1M404.5 178.84h-1M279.6 177.91h1M404.5 177.91h-1M279.6 177.11h1M404.5 177.11h-1M279.6 176.4h1M404.5 176.4h-1M279.6 175.77h2M404.5 175.77h-2M279.6 171.6h1M404.5 171.6h-1M279.6 169.17h1M404.5 169.17h-1M279.6 167.44h1M404.5 167.44h-1M279.6 166.1h1M404.5 166.1h-1M279.6 165h1M404.5 165h-1M279.6 164.08h1M404.5 164.08h-1M279.6 163.27h1M404.5 163.27h-1M279.6 162.57h1M404.5 162.57h-1M279.6 161.93h2M404.5 161.93h-2M279.6 157.77h1M404.5 157.77h-1M279.6 155.33h1M404.5 155.33h-1M279.6 153.6h1M404.5 153.6h-1M279.6 152.26h1M404.5 152.26h-1M279.6 151.17h1M404.5 151.17h-1M279.6 150.24h1M404.5 150.24h-1M279.6 149.44h1M404.5 149.44h-1M279.6 148.73h1M404.5 148.73h-1" fill="none" stroke="#333" stroke-width="0.45"/>
<rect x="279.6" y="148.1" width="124.9" height="83" fill="none" stroke="#222" stroke-width="0.6"/>
<text x="276.7" y="150.2" style="font-family:'DejaVu Serif',serif;font-size:5.2px" text-anchor="end">10<tspan dy="-2.2" style="font-size:3.9px">2</tspan></text>
<text x="276.7" y="164.03" style="font-family:'DejaVu Serif',serif;font-size:5.2px" text-anchor="end">10<tspan dy="-2.2" style="font-size:3.9px">1</tspan></text>
<text x="276.7" y="177.87" style="font-family:'DejaVu Serif',serif;font-size:5.2px" text-anchor="end">10<tspan dy="-2.2" style="font-size:3.9px">0</tspan></text>
<text x="276.7" y="191.7" style="font-family:'DejaVu Serif',serif;font-size:5.2px" text-anchor="end">10<tspan dy="-2.2" style="font-size:3.9px">-1</tspan></text>
<text x="276.7" y="205.53" style="font-family:'DejaVu Serif',serif;font-size:5.2px" text-anchor="end">10<tspan dy="-2.2" style="font-size:3.9px">-2</tspan></text>
<text x="276.7" y="219.37" style="font-family:'DejaVu Serif',serif;font-size:5.2px" text-anchor="end">10<tspan dy="-2.2" style="font-size:3.9px">-3</tspan></text>
<text x="276.7" y="233.2" style="font-family:'DejaVu Serif',serif;font-size:5.2px" text-anchor="end">10<tspan dy="-2.2" style="font-size:3.9px">-4</tspan></text>
<text x="280.4" y="239.3" style="font-family:'DejaVu Serif',serif;font-size:5.2px" text-anchor="middle">1</text>
<text x="311.63" y="239.3" style="font-family:'DejaVu Serif',serif;font-size:5.2px" text-anchor="middle">10</text>
<text x="342.85" y="239.3" style="font-family:'DejaVu Serif',serif;font-size:5.2px" text-anchor="middle">100</text>
<text x="374.08" y="239.3" style="font-family:'DejaVu Serif',serif;font-size:5.2px" text-anchor="middle">1000</text>
<text x="405.3" y="239.3" style="font-family:'DejaVu Serif',serif;font-size:5.2px" text-anchor="middle">10000</text>
<text x="342.05" y="247.8" style="font-family:'DejaVu Sans',sans-serif;font-size:5.0px" text-anchor="middle">Frequency <tspan font-style="italic">f</tspan>/kHz</text>
<text x="260.7" y="189.3" transform="rotate(-90 260.7 189.3)" style="font-family:'DejaVu Sans',sans-serif;font-size:5.0px" text-anchor="middle"><tspan font-style="italic">R</tspan><tspan dy="1" style="font-size:3.6px">v</tspan><tspan dy="-1">/nm</tspan></text>
<text x="304.7" y="223" style="font-family:'DejaVu Serif',serif;font-size:5.0px" text-anchor="end"><tspan font-style="italic">k</tspan><tspan dy="1" style="font-size:3.5px">v</tspan><tspan dy="-1">=5000</tspan></text>
<path d="M307.8 220.4H323" stroke="#8a9cea" stroke-width="0.6"/>
<text x="304.7" y="228.7" style="font-family:'DejaVu Serif',serif;font-size:5.0px" text-anchor="end"><tspan font-style="italic">k</tspan><tspan dy="1" style="font-size:3.5px">v</tspan><tspan dy="-1">=4000</tspan></text>
<path d="M307.8 226.1H323" stroke="#de4656" stroke-width="0.65" stroke-dasharray="1.6 0.6"/>
<path d="M385.9 178.3V186.6" stroke="#000" stroke-width="0.5"/>
<path d="M385.9 189.4L384.7 186.6L387.1 186.6Z" fill="#000"/>
<text x="386.5" y="176.1" style="font-family:'DejaVu Sans',sans-serif;font-size:5.4px" text-anchor="middle"><tspan font-style="italic">P</tspan><tspan dy="0.4" style="font-size:3.9px">v1</tspan></text>
</svg>
</body></html>
